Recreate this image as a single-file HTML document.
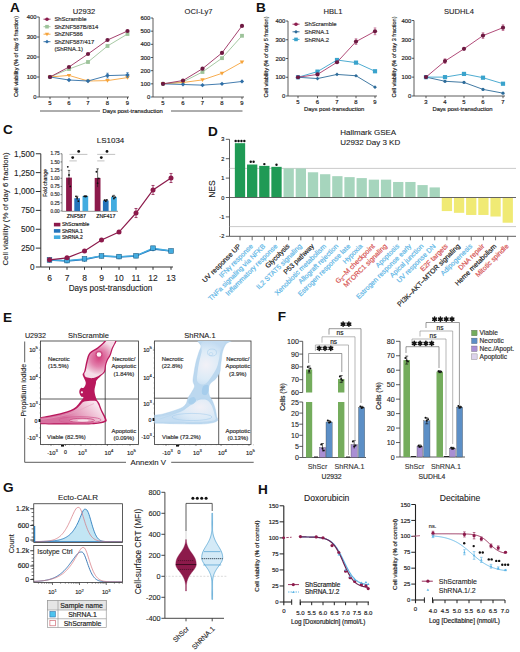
<!DOCTYPE html>
<html><head><meta charset="utf-8"><style>
html,body{margin:0;padding:0;background:#fff;}
svg{display:block;font-family:"Liberation Sans", sans-serif;}
</style></head><body>
<svg width="520" height="652" viewBox="0 0 520 652">
<rect x="0" y="0" width="520" height="652" fill="#fff"/>
<g font-family='"Liberation Sans", sans-serif'>
<text x="10.10" y="11.50" font-size="13.6" text-anchor="start" fill="#111" font-weight="bold">A</text>
<text x="255.90" y="11.50" font-size="13.6" text-anchor="start" fill="#111" font-weight="bold">B</text>
<text x="84.00" y="14.24" font-size="7.6" text-anchor="middle" fill="#222" font-weight="normal" stroke="#222" stroke-width="0.1">U2932</text>
<line x1="39.20" y1="17.00" x2="39.20" y2="97.00" stroke="#333" stroke-width="0.8"/>
<line x1="36.90" y1="97.00" x2="39.20" y2="97.00" stroke="#333" stroke-width="0.8"/>
<text x="36.60" y="99.12" font-size="5.9" text-anchor="end" fill="#222" font-weight="normal" stroke="#222" stroke-width="0.18">0</text>
<line x1="36.90" y1="77.00" x2="39.20" y2="77.00" stroke="#333" stroke-width="0.8"/>
<text x="36.60" y="79.12" font-size="5.9" text-anchor="end" fill="#222" font-weight="normal" stroke="#222" stroke-width="0.18">100</text>
<line x1="36.90" y1="57.00" x2="39.20" y2="57.00" stroke="#333" stroke-width="0.8"/>
<text x="36.60" y="59.12" font-size="5.9" text-anchor="end" fill="#222" font-weight="normal" stroke="#222" stroke-width="0.18">200</text>
<line x1="36.90" y1="37.00" x2="39.20" y2="37.00" stroke="#333" stroke-width="0.8"/>
<text x="36.60" y="39.12" font-size="5.9" text-anchor="end" fill="#222" font-weight="normal" stroke="#222" stroke-width="0.18">300</text>
<line x1="36.90" y1="17.00" x2="39.20" y2="17.00" stroke="#333" stroke-width="0.8"/>
<text x="36.60" y="19.12" font-size="5.9" text-anchor="end" fill="#222" font-weight="normal" stroke="#222" stroke-width="0.18">400</text>
<line x1="39.20" y1="97.00" x2="129.00" y2="97.00" stroke="#333" stroke-width="0.8"/>
<line x1="50.00" y1="97.00" x2="50.00" y2="99.20" stroke="#333" stroke-width="0.8"/>
<text x="50.00" y="104.62" font-size="5.9" text-anchor="middle" fill="#222" font-weight="normal" stroke="#222" stroke-width="0.18">5</text>
<line x1="69.00" y1="97.00" x2="69.00" y2="99.20" stroke="#333" stroke-width="0.8"/>
<text x="69.00" y="104.62" font-size="5.9" text-anchor="middle" fill="#222" font-weight="normal" stroke="#222" stroke-width="0.18">6</text>
<line x1="88.00" y1="97.00" x2="88.00" y2="99.20" stroke="#333" stroke-width="0.8"/>
<text x="88.00" y="104.62" font-size="5.9" text-anchor="middle" fill="#222" font-weight="normal" stroke="#222" stroke-width="0.18">7</text>
<line x1="107.50" y1="97.00" x2="107.50" y2="99.20" stroke="#333" stroke-width="0.8"/>
<text x="107.50" y="104.62" font-size="5.9" text-anchor="middle" fill="#222" font-weight="normal" stroke="#222" stroke-width="0.18">8</text>
<line x1="127.50" y1="97.00" x2="127.50" y2="99.20" stroke="#333" stroke-width="0.8"/>
<text x="127.50" y="104.62" font-size="5.9" text-anchor="middle" fill="#222" font-weight="normal" stroke="#222" stroke-width="0.18">9</text>
<text x="16.00" y="58.52" font-size="5.6" text-anchor="middle" fill="#222" font-weight="normal" stroke="#222" stroke-width="0.18" transform="rotate(-90 16.00 56.50)">Cell viability (% of day 5 fraction)</text>
<polyline points="50.00,77.00 69.00,69.00 88.00,62.00 107.50,46.00 127.50,34.00" stroke="#9dc39a" stroke-width="0.9" fill="none"/>
<rect x="48.10" y="75.10" width="3.80" height="3.80" fill="#9dc39a" stroke="none" stroke-width="0"/>
<rect x="67.10" y="67.10" width="3.80" height="3.80" fill="#9dc39a" stroke="none" stroke-width="0"/>
<rect x="86.10" y="60.10" width="3.80" height="3.80" fill="#9dc39a" stroke="none" stroke-width="0"/>
<rect x="105.60" y="44.10" width="3.80" height="3.80" fill="#9dc39a" stroke="none" stroke-width="0"/>
<rect x="125.60" y="32.10" width="3.80" height="3.80" fill="#9dc39a" stroke="none" stroke-width="0"/>
<polyline points="50.00,77.00 69.00,75.40 88.00,81.00 107.50,80.60 127.50,77.60" stroke="#f6a43c" stroke-width="0.9" fill="none"/>
<path d="M47.72,75.48 L52.28,75.48 L50.00,79.09Z" fill="#f6a43c" stroke="none" stroke-width="0"/>
<path d="M66.72,73.88 L71.28,73.88 L69.00,77.49Z" fill="#f6a43c" stroke="none" stroke-width="0"/>
<path d="M85.72,79.48 L90.28,79.48 L88.00,83.09Z" fill="#f6a43c" stroke="none" stroke-width="0"/>
<path d="M105.22,79.08 L109.78,79.08 L107.50,82.69Z" fill="#f6a43c" stroke="none" stroke-width="0"/>
<path d="M125.22,76.08 L129.78,76.08 L127.50,79.69Z" fill="#f6a43c" stroke="none" stroke-width="0"/>
<polyline points="50.00,77.00 69.00,80.00 88.00,81.00 107.50,75.60 127.50,75.00" stroke="#2f6ea6" stroke-width="0.9" fill="none"/>
<path d="M50.00,74.75 L52.25,77.00 L50.00,79.25 L47.75,77.00Z" fill="#2f6ea6" stroke="none" stroke-width="0"/>
<path d="M69.00,77.75 L71.25,80.00 L69.00,82.25 L66.75,80.00Z" fill="#2f6ea6" stroke="none" stroke-width="0"/>
<path d="M88.00,78.75 L90.25,81.00 L88.00,83.25 L85.75,81.00Z" fill="#2f6ea6" stroke="none" stroke-width="0"/>
<line x1="107.50" y1="73.20" x2="107.50" y2="78.00" stroke="#2f6ea6" stroke-width="0.6"/>
<line x1="106.20" y1="73.20" x2="108.80" y2="73.20" stroke="#2f6ea6" stroke-width="0.6"/>
<line x1="106.20" y1="78.00" x2="108.80" y2="78.00" stroke="#2f6ea6" stroke-width="0.6"/>
<path d="M107.50,73.35 L109.75,75.60 L107.50,77.85 L105.25,75.60Z" fill="#2f6ea6" stroke="none" stroke-width="0"/>
<line x1="127.50" y1="72.60" x2="127.50" y2="77.40" stroke="#2f6ea6" stroke-width="0.6"/>
<line x1="126.20" y1="72.60" x2="128.80" y2="72.60" stroke="#2f6ea6" stroke-width="0.6"/>
<line x1="126.20" y1="77.40" x2="128.80" y2="77.40" stroke="#2f6ea6" stroke-width="0.6"/>
<path d="M127.50,72.75 L129.75,75.00 L127.50,77.25 L125.25,75.00Z" fill="#2f6ea6" stroke="none" stroke-width="0"/>
<polyline points="50.00,77.00 69.00,67.00 88.00,54.00 107.50,40.00 127.50,31.00" stroke="#9a2d5e" stroke-width="0.9" fill="none"/>
<circle cx="50.00" cy="77.00" r="2.1" fill="#6e1a42" stroke="none" stroke-width="0"/>
<circle cx="69.00" cy="67.00" r="2.1" fill="#6e1a42" stroke="none" stroke-width="0"/>
<circle cx="88.00" cy="54.00" r="2.1" fill="#6e1a42" stroke="none" stroke-width="0"/>
<circle cx="107.50" cy="40.00" r="2.1" fill="#6e1a42" stroke="none" stroke-width="0"/>
<circle cx="127.50" cy="31.00" r="2.1" fill="#6e1a42" stroke="none" stroke-width="0"/>
<line x1="43.50" y1="19.20" x2="50.50" y2="19.20" stroke="#8a1b4b" stroke-width="0.9"/>
<circle cx="47.00" cy="19.20" r="1.8" fill="#8a1b4b" stroke="none" stroke-width="0"/>
<text x="54.40" y="21.32" font-size="5.9" text-anchor="start" fill="#333" font-weight="normal" stroke="#333" stroke-width="0.18">ShScramble</text>
<line x1="43.50" y1="26.70" x2="50.50" y2="26.70" stroke="#9dc39a" stroke-width="0.9"/>
<rect x="45.20" y="24.90" width="3.60" height="3.60" fill="#9dc39a" stroke="none" stroke-width="0"/>
<text x="54.40" y="28.82" font-size="5.9" text-anchor="start" fill="#333" font-weight="normal" stroke="#333" stroke-width="0.18">ShZNF587B/814</text>
<line x1="43.50" y1="34.20" x2="50.50" y2="34.20" stroke="#f6a43c" stroke-width="0.9"/>
<path d="M44.84,32.76 L49.16,32.76 L47.00,36.18Z" fill="#f6a43c" stroke="none" stroke-width="0"/>
<text x="54.40" y="36.32" font-size="5.9" text-anchor="start" fill="#333" font-weight="normal" stroke="#333" stroke-width="0.18">ShZNF586</text>
<line x1="43.50" y1="41.70" x2="50.50" y2="41.70" stroke="#2f6ea6" stroke-width="0.9"/>
<path d="M47.00,39.83 L48.88,41.70 L47.00,43.58 L45.12,41.70Z" fill="#2f6ea6" stroke="none" stroke-width="0"/>
<text x="54.40" y="43.82" font-size="5.9" text-anchor="start" fill="#333" font-weight="normal" stroke="#333" stroke-width="0.18">ShZNF587/417</text>
<text x="54.40" y="50.72" font-size="5.9" text-anchor="start" fill="#333" font-weight="normal" stroke="#333" stroke-width="0.18">(ShRNA.1)</text>
<text x="198.50" y="14.24" font-size="7.6" text-anchor="middle" fill="#222" font-weight="normal" stroke="#222" stroke-width="0.1">OCI-Ly7</text>
<line x1="153.00" y1="18.00" x2="153.00" y2="97.00" stroke="#333" stroke-width="0.8"/>
<line x1="150.70" y1="97.00" x2="153.00" y2="97.00" stroke="#333" stroke-width="0.8"/>
<text x="150.40" y="99.12" font-size="5.9" text-anchor="end" fill="#222" font-weight="normal" stroke="#222" stroke-width="0.18">0</text>
<line x1="150.70" y1="83.83" x2="153.00" y2="83.83" stroke="#333" stroke-width="0.8"/>
<text x="150.40" y="85.96" font-size="5.9" text-anchor="end" fill="#222" font-weight="normal" stroke="#222" stroke-width="0.18">100</text>
<line x1="150.70" y1="70.67" x2="153.00" y2="70.67" stroke="#333" stroke-width="0.8"/>
<text x="150.40" y="72.79" font-size="5.9" text-anchor="end" fill="#222" font-weight="normal" stroke="#222" stroke-width="0.18">200</text>
<line x1="150.70" y1="57.50" x2="153.00" y2="57.50" stroke="#333" stroke-width="0.8"/>
<text x="150.40" y="59.62" font-size="5.9" text-anchor="end" fill="#222" font-weight="normal" stroke="#222" stroke-width="0.18">300</text>
<line x1="150.70" y1="44.33" x2="153.00" y2="44.33" stroke="#333" stroke-width="0.8"/>
<text x="150.40" y="46.46" font-size="5.9" text-anchor="end" fill="#222" font-weight="normal" stroke="#222" stroke-width="0.18">400</text>
<line x1="150.70" y1="31.17" x2="153.00" y2="31.17" stroke="#333" stroke-width="0.8"/>
<text x="150.40" y="33.29" font-size="5.9" text-anchor="end" fill="#222" font-weight="normal" stroke="#222" stroke-width="0.18">500</text>
<line x1="150.70" y1="18.00" x2="153.00" y2="18.00" stroke="#333" stroke-width="0.8"/>
<text x="150.40" y="20.12" font-size="5.9" text-anchor="end" fill="#222" font-weight="normal" stroke="#222" stroke-width="0.18">600</text>
<line x1="153.00" y1="97.00" x2="244.00" y2="97.00" stroke="#333" stroke-width="0.8"/>
<line x1="163.00" y1="97.00" x2="163.00" y2="99.20" stroke="#333" stroke-width="0.8"/>
<text x="163.00" y="104.62" font-size="5.9" text-anchor="middle" fill="#222" font-weight="normal" stroke="#222" stroke-width="0.18">5</text>
<line x1="183.00" y1="97.00" x2="183.00" y2="99.20" stroke="#333" stroke-width="0.8"/>
<text x="183.00" y="104.62" font-size="5.9" text-anchor="middle" fill="#222" font-weight="normal" stroke="#222" stroke-width="0.18">6</text>
<line x1="202.50" y1="97.00" x2="202.50" y2="99.20" stroke="#333" stroke-width="0.8"/>
<text x="202.50" y="104.62" font-size="5.9" text-anchor="middle" fill="#222" font-weight="normal" stroke="#222" stroke-width="0.18">7</text>
<line x1="222.00" y1="97.00" x2="222.00" y2="99.20" stroke="#333" stroke-width="0.8"/>
<text x="222.00" y="104.62" font-size="5.9" text-anchor="middle" fill="#222" font-weight="normal" stroke="#222" stroke-width="0.18">8</text>
<line x1="242.00" y1="97.00" x2="242.00" y2="99.20" stroke="#333" stroke-width="0.8"/>
<text x="242.00" y="104.62" font-size="5.9" text-anchor="middle" fill="#222" font-weight="normal" stroke="#222" stroke-width="0.18">9</text>
<polyline points="163.00,83.83 183.00,81.86 202.50,71.98 222.00,58.16 242.00,35.78" stroke="#9dc39a" stroke-width="0.9" fill="none"/>
<rect x="161.10" y="81.93" width="3.80" height="3.80" fill="#9dc39a" stroke="none" stroke-width="0"/>
<rect x="181.10" y="79.96" width="3.80" height="3.80" fill="#9dc39a" stroke="none" stroke-width="0"/>
<rect x="200.60" y="70.08" width="3.80" height="3.80" fill="#9dc39a" stroke="none" stroke-width="0"/>
<rect x="220.10" y="56.26" width="3.80" height="3.80" fill="#9dc39a" stroke="none" stroke-width="0"/>
<rect x="240.10" y="33.88" width="3.80" height="3.80" fill="#9dc39a" stroke="none" stroke-width="0"/>
<polyline points="163.00,83.83 183.00,82.52 202.50,79.88 222.00,73.30 242.00,62.11" stroke="#f6a43c" stroke-width="0.9" fill="none"/>
<path d="M160.72,82.31 L165.28,82.31 L163.00,85.92Z" fill="#f6a43c" stroke="none" stroke-width="0"/>
<path d="M180.72,81.00 L185.28,81.00 L183.00,84.61Z" fill="#f6a43c" stroke="none" stroke-width="0"/>
<path d="M200.22,78.36 L204.78,78.36 L202.50,81.97Z" fill="#f6a43c" stroke="none" stroke-width="0"/>
<path d="M219.72,71.78 L224.28,71.78 L222.00,75.39Z" fill="#f6a43c" stroke="none" stroke-width="0"/>
<path d="M239.72,60.59 L244.28,60.59 L242.00,64.20Z" fill="#f6a43c" stroke="none" stroke-width="0"/>
<polyline points="163.00,83.83 183.00,84.49 202.50,85.15 222.00,83.83 242.00,81.46" stroke="#2f6ea6" stroke-width="0.9" fill="none"/>
<path d="M163.00,81.71 L165.12,83.83 L163.00,85.96 L160.88,83.83Z" fill="#2f6ea6" stroke="none" stroke-width="0"/>
<path d="M183.00,82.37 L185.12,84.49 L183.00,86.62 L180.88,84.49Z" fill="#2f6ea6" stroke="none" stroke-width="0"/>
<path d="M202.50,83.03 L204.62,85.15 L202.50,87.28 L200.38,85.15Z" fill="#2f6ea6" stroke="none" stroke-width="0"/>
<path d="M222.00,81.71 L224.12,83.83 L222.00,85.96 L219.88,83.83Z" fill="#2f6ea6" stroke="none" stroke-width="0"/>
<path d="M242.00,79.34 L244.12,81.46 L242.00,83.59 L239.88,81.46Z" fill="#2f6ea6" stroke="none" stroke-width="0"/>
<polyline points="163.00,83.83 183.00,80.54 202.50,68.69 222.00,52.89 242.00,25.90" stroke="#9a2d5e" stroke-width="0.9" fill="none"/>
<circle cx="163.00" cy="83.83" r="2.1" fill="#6e1a42" stroke="none" stroke-width="0"/>
<circle cx="183.00" cy="80.54" r="2.1" fill="#6e1a42" stroke="none" stroke-width="0"/>
<circle cx="202.50" cy="68.69" r="2.1" fill="#6e1a42" stroke="none" stroke-width="0"/>
<circle cx="222.00" cy="52.89" r="2.1" fill="#6e1a42" stroke="none" stroke-width="0"/>
<circle cx="242.00" cy="25.90" r="2.1" fill="#6e1a42" stroke="none" stroke-width="0"/>
<line x1="40.00" y1="111.00" x2="100.00" y2="111.00" stroke="#333" stroke-width="0.8"/>
<line x1="171.00" y1="111.00" x2="242.50" y2="111.00" stroke="#333" stroke-width="0.8"/>
<text x="132.60" y="113.32" font-size="5.9" text-anchor="middle" fill="#222" font-weight="normal" stroke="#222" stroke-width="0.18">Days post-transduction</text>
<text x="333.00" y="14.24" font-size="7.6" text-anchor="middle" fill="#222" font-weight="normal" stroke="#222" stroke-width="0.1">HBL1</text>
<line x1="288.00" y1="21.00" x2="288.00" y2="96.00" stroke="#333" stroke-width="0.8"/>
<line x1="285.70" y1="96.00" x2="288.00" y2="96.00" stroke="#333" stroke-width="0.8"/>
<text x="285.40" y="98.12" font-size="5.9" text-anchor="end" fill="#222" font-weight="normal" stroke="#222" stroke-width="0.18">0</text>
<line x1="285.70" y1="77.25" x2="288.00" y2="77.25" stroke="#333" stroke-width="0.8"/>
<text x="285.40" y="79.37" font-size="5.9" text-anchor="end" fill="#222" font-weight="normal" stroke="#222" stroke-width="0.18">100</text>
<line x1="285.70" y1="58.50" x2="288.00" y2="58.50" stroke="#333" stroke-width="0.8"/>
<text x="285.40" y="60.62" font-size="5.9" text-anchor="end" fill="#222" font-weight="normal" stroke="#222" stroke-width="0.18">200</text>
<line x1="285.70" y1="39.75" x2="288.00" y2="39.75" stroke="#333" stroke-width="0.8"/>
<text x="285.40" y="41.87" font-size="5.9" text-anchor="end" fill="#222" font-weight="normal" stroke="#222" stroke-width="0.18">300</text>
<line x1="285.70" y1="21.00" x2="288.00" y2="21.00" stroke="#333" stroke-width="0.8"/>
<text x="285.40" y="23.12" font-size="5.9" text-anchor="end" fill="#222" font-weight="normal" stroke="#222" stroke-width="0.18">400</text>
<line x1="288.00" y1="96.00" x2="377.00" y2="96.00" stroke="#333" stroke-width="0.8"/>
<line x1="298.00" y1="96.00" x2="298.00" y2="98.20" stroke="#333" stroke-width="0.8"/>
<text x="298.00" y="103.62" font-size="5.9" text-anchor="middle" fill="#222" font-weight="normal" stroke="#222" stroke-width="0.18">5</text>
<line x1="317.50" y1="96.00" x2="317.50" y2="98.20" stroke="#333" stroke-width="0.8"/>
<text x="317.50" y="103.62" font-size="5.9" text-anchor="middle" fill="#222" font-weight="normal" stroke="#222" stroke-width="0.18">6</text>
<line x1="337.00" y1="96.00" x2="337.00" y2="98.20" stroke="#333" stroke-width="0.8"/>
<text x="337.00" y="103.62" font-size="5.9" text-anchor="middle" fill="#222" font-weight="normal" stroke="#222" stroke-width="0.18">7</text>
<line x1="356.00" y1="96.00" x2="356.00" y2="98.20" stroke="#333" stroke-width="0.8"/>
<text x="356.00" y="103.62" font-size="5.9" text-anchor="middle" fill="#222" font-weight="normal" stroke="#222" stroke-width="0.18">8</text>
<line x1="375.00" y1="96.00" x2="375.00" y2="98.20" stroke="#333" stroke-width="0.8"/>
<text x="375.00" y="103.62" font-size="5.9" text-anchor="middle" fill="#222" font-weight="normal" stroke="#222" stroke-width="0.18">9</text>
<text x="334.20" y="111.32" font-size="5.9" text-anchor="middle" fill="#222" font-weight="normal" stroke="#222" stroke-width="0.18">Days post-transduction</text>
<text x="265.50" y="59.02" font-size="5.6" text-anchor="middle" fill="#222" font-weight="normal" stroke="#222" stroke-width="0.18" transform="rotate(-90 265.50 57.00)">Cell viability (% of day 5 fraction)</text>
<polyline points="298.00,77.25 317.50,78.56 337.00,74.44 356.00,75.75 375.00,87.19" stroke="#2c6b99" stroke-width="0.9" fill="none"/>
<path d="M298.00,75.38 L299.88,77.25 L298.00,79.12 L296.12,77.25Z" fill="#2c6b99" stroke="none" stroke-width="0"/>
<path d="M317.50,76.69 L319.38,78.56 L317.50,80.44 L315.62,78.56Z" fill="#2c6b99" stroke="none" stroke-width="0"/>
<path d="M337.00,72.56 L338.88,74.44 L337.00,76.31 L335.12,74.44Z" fill="#2c6b99" stroke="none" stroke-width="0"/>
<path d="M356.00,73.88 L357.88,75.75 L356.00,77.62 L354.12,75.75Z" fill="#2c6b99" stroke="none" stroke-width="0"/>
<path d="M375.00,85.31 L376.88,87.19 L375.00,89.06 L373.12,87.19Z" fill="#2c6b99" stroke="none" stroke-width="0"/>
<polyline points="298.00,77.25 317.50,71.62 337.00,60.00 356.00,62.62 375.00,71.25" stroke="#3aa3cc" stroke-width="0.9" fill="none"/>
<rect x="295.90" y="75.15" width="4.20" height="4.20" fill="#3aa3cc" stroke="none" stroke-width="0"/>
<rect x="315.40" y="69.53" width="4.20" height="4.20" fill="#3aa3cc" stroke="none" stroke-width="0"/>
<rect x="334.90" y="57.90" width="4.20" height="4.20" fill="#3aa3cc" stroke="none" stroke-width="0"/>
<rect x="353.90" y="60.52" width="4.20" height="4.20" fill="#3aa3cc" stroke="none" stroke-width="0"/>
<rect x="372.90" y="69.15" width="4.20" height="4.20" fill="#3aa3cc" stroke="none" stroke-width="0"/>
<polyline points="298.00,77.25 317.50,74.44 337.00,62.25 356.00,41.62 375.00,31.31" stroke="#a8386a" stroke-width="0.9" fill="none"/>
<circle cx="298.00" cy="77.25" r="2.1" fill="#6e1a42" stroke="none" stroke-width="0"/>
<circle cx="317.50" cy="74.44" r="2.1" fill="#6e1a42" stroke="none" stroke-width="0"/>
<circle cx="337.00" cy="62.25" r="2.1" fill="#6e1a42" stroke="none" stroke-width="0"/>
<line x1="356.00" y1="38.81" x2="356.00" y2="44.44" stroke="#a8386a" stroke-width="0.6"/>
<line x1="354.70" y1="38.81" x2="357.30" y2="38.81" stroke="#a8386a" stroke-width="0.6"/>
<line x1="354.70" y1="44.44" x2="357.30" y2="44.44" stroke="#a8386a" stroke-width="0.6"/>
<circle cx="356.00" cy="41.62" r="2.1" fill="#6e1a42" stroke="none" stroke-width="0"/>
<line x1="375.00" y1="27.94" x2="375.00" y2="34.69" stroke="#a8386a" stroke-width="0.6"/>
<line x1="373.70" y1="27.94" x2="376.30" y2="27.94" stroke="#a8386a" stroke-width="0.6"/>
<line x1="373.70" y1="34.69" x2="376.30" y2="34.69" stroke="#a8386a" stroke-width="0.6"/>
<circle cx="375.00" cy="31.31" r="2.1" fill="#6e1a42" stroke="none" stroke-width="0"/>
<line x1="292.50" y1="24.20" x2="299.50" y2="24.20" stroke="#8e1e4e" stroke-width="0.9"/>
<circle cx="296.00" cy="24.20" r="1.8" fill="#8e1e4e" stroke="none" stroke-width="0"/>
<text x="304.50" y="26.32" font-size="5.9" text-anchor="start" fill="#333" font-weight="normal" stroke="#333" stroke-width="0.18">ShScramble</text>
<line x1="292.50" y1="31.80" x2="299.50" y2="31.80" stroke="#2c6b99" stroke-width="0.9"/>
<path d="M296.00,29.92 L297.88,31.80 L296.00,33.67 L294.12,31.80Z" fill="#2c6b99" stroke="none" stroke-width="0"/>
<text x="304.50" y="33.92" font-size="5.9" text-anchor="start" fill="#333" font-weight="normal" stroke="#333" stroke-width="0.18">ShRNA.1</text>
<line x1="292.50" y1="39.40" x2="299.50" y2="39.40" stroke="#3aa3cc" stroke-width="0.9"/>
<rect x="294.20" y="37.60" width="3.60" height="3.60" fill="#3aa3cc" stroke="none" stroke-width="0"/>
<text x="304.50" y="41.52" font-size="5.9" text-anchor="start" fill="#333" font-weight="normal" stroke="#333" stroke-width="0.18">ShRNA.2</text>
<text x="459.00" y="14.24" font-size="7.6" text-anchor="middle" fill="#222" font-weight="normal" stroke="#222" stroke-width="0.1">SUDHL4</text>
<line x1="414.00" y1="20.50" x2="414.00" y2="96.00" stroke="#333" stroke-width="0.8"/>
<line x1="411.70" y1="96.00" x2="414.00" y2="96.00" stroke="#333" stroke-width="0.8"/>
<text x="411.40" y="98.12" font-size="5.9" text-anchor="end" fill="#222" font-weight="normal" stroke="#222" stroke-width="0.18">0</text>
<line x1="411.70" y1="77.12" x2="414.00" y2="77.12" stroke="#333" stroke-width="0.8"/>
<text x="411.40" y="79.25" font-size="5.9" text-anchor="end" fill="#222" font-weight="normal" stroke="#222" stroke-width="0.18">100</text>
<line x1="411.70" y1="58.25" x2="414.00" y2="58.25" stroke="#333" stroke-width="0.8"/>
<text x="411.40" y="60.37" font-size="5.9" text-anchor="end" fill="#222" font-weight="normal" stroke="#222" stroke-width="0.18">200</text>
<line x1="411.70" y1="39.38" x2="414.00" y2="39.38" stroke="#333" stroke-width="0.8"/>
<text x="411.40" y="41.50" font-size="5.9" text-anchor="end" fill="#222" font-weight="normal" stroke="#222" stroke-width="0.18">300</text>
<line x1="411.70" y1="20.50" x2="414.00" y2="20.50" stroke="#333" stroke-width="0.8"/>
<text x="411.40" y="22.62" font-size="5.9" text-anchor="end" fill="#222" font-weight="normal" stroke="#222" stroke-width="0.18">400</text>
<line x1="414.00" y1="96.00" x2="505.00" y2="96.00" stroke="#333" stroke-width="0.8"/>
<line x1="426.00" y1="96.00" x2="426.00" y2="98.20" stroke="#333" stroke-width="0.8"/>
<text x="426.00" y="103.62" font-size="5.9" text-anchor="middle" fill="#222" font-weight="normal" stroke="#222" stroke-width="0.18">3</text>
<line x1="445.00" y1="96.00" x2="445.00" y2="98.20" stroke="#333" stroke-width="0.8"/>
<text x="445.00" y="103.62" font-size="5.9" text-anchor="middle" fill="#222" font-weight="normal" stroke="#222" stroke-width="0.18">4</text>
<line x1="464.00" y1="96.00" x2="464.00" y2="98.20" stroke="#333" stroke-width="0.8"/>
<text x="464.00" y="103.62" font-size="5.9" text-anchor="middle" fill="#222" font-weight="normal" stroke="#222" stroke-width="0.18">5</text>
<line x1="483.00" y1="96.00" x2="483.00" y2="98.20" stroke="#333" stroke-width="0.8"/>
<text x="483.00" y="103.62" font-size="5.9" text-anchor="middle" fill="#222" font-weight="normal" stroke="#222" stroke-width="0.18">6</text>
<line x1="503.00" y1="96.00" x2="503.00" y2="98.20" stroke="#333" stroke-width="0.8"/>
<text x="503.00" y="103.62" font-size="5.9" text-anchor="middle" fill="#222" font-weight="normal" stroke="#222" stroke-width="0.18">7</text>
<text x="462.50" y="111.32" font-size="5.9" text-anchor="middle" fill="#222" font-weight="normal" stroke="#222" stroke-width="0.18">Days post-transduction</text>
<text x="393.50" y="59.02" font-size="5.6" text-anchor="middle" fill="#222" font-weight="normal" stroke="#222" stroke-width="0.18" transform="rotate(-90 393.50 57.00)">Cell viability (% of day 3 fraction)</text>
<polyline points="426.00,77.12 445.00,81.28 464.00,82.41 483.00,89.39 503.00,93.17" stroke="#2c6b99" stroke-width="0.9" fill="none"/>
<circle cx="426.00" cy="77.12" r="1.6" fill="#2c6b99" stroke="none" stroke-width="0"/>
<circle cx="445.00" cy="81.28" r="1.6" fill="#2c6b99" stroke="none" stroke-width="0"/>
<circle cx="464.00" cy="82.41" r="1.6" fill="#2c6b99" stroke="none" stroke-width="0"/>
<circle cx="483.00" cy="89.39" r="1.6" fill="#2c6b99" stroke="none" stroke-width="0"/>
<circle cx="503.00" cy="93.17" r="1.6" fill="#2c6b99" stroke="none" stroke-width="0"/>
<polyline points="426.00,77.12 445.00,77.12 464.00,73.92 483.00,77.69 503.00,83.73" stroke="#3aa3cc" stroke-width="0.9" fill="none"/>
<rect x="423.90" y="75.03" width="4.20" height="4.20" fill="#3aa3cc" stroke="none" stroke-width="0"/>
<rect x="442.90" y="75.03" width="4.20" height="4.20" fill="#3aa3cc" stroke="none" stroke-width="0"/>
<rect x="461.90" y="71.82" width="4.20" height="4.20" fill="#3aa3cc" stroke="none" stroke-width="0"/>
<rect x="480.90" y="75.59" width="4.20" height="4.20" fill="#3aa3cc" stroke="none" stroke-width="0"/>
<rect x="500.90" y="81.63" width="4.20" height="4.20" fill="#3aa3cc" stroke="none" stroke-width="0"/>
<polyline points="426.00,77.12 445.00,61.08 464.00,48.81 483.00,35.60 503.00,27.67" stroke="#a8386a" stroke-width="0.9" fill="none"/>
<circle cx="426.00" cy="77.12" r="2.1" fill="#6e1a42" stroke="none" stroke-width="0"/>
<line x1="445.00" y1="58.82" x2="445.00" y2="63.35" stroke="#a8386a" stroke-width="0.6"/>
<line x1="443.70" y1="58.82" x2="446.30" y2="58.82" stroke="#a8386a" stroke-width="0.6"/>
<line x1="443.70" y1="63.35" x2="446.30" y2="63.35" stroke="#a8386a" stroke-width="0.6"/>
<circle cx="445.00" cy="61.08" r="2.1" fill="#6e1a42" stroke="none" stroke-width="0"/>
<circle cx="464.00" cy="48.81" r="2.1" fill="#6e1a42" stroke="none" stroke-width="0"/>
<line x1="483.00" y1="32.77" x2="483.00" y2="38.43" stroke="#a8386a" stroke-width="0.6"/>
<line x1="481.70" y1="32.77" x2="484.30" y2="32.77" stroke="#a8386a" stroke-width="0.6"/>
<line x1="481.70" y1="38.43" x2="484.30" y2="38.43" stroke="#a8386a" stroke-width="0.6"/>
<circle cx="483.00" cy="35.60" r="2.1" fill="#6e1a42" stroke="none" stroke-width="0"/>
<line x1="503.00" y1="24.84" x2="503.00" y2="30.50" stroke="#a8386a" stroke-width="0.6"/>
<line x1="501.70" y1="24.84" x2="504.30" y2="24.84" stroke="#a8386a" stroke-width="0.6"/>
<line x1="501.70" y1="30.50" x2="504.30" y2="30.50" stroke="#a8386a" stroke-width="0.6"/>
<circle cx="503.00" cy="27.67" r="2.1" fill="#6e1a42" stroke="none" stroke-width="0"/>
</g>
<g font-family='"Liberation Sans", sans-serif'>
<text x="2.90" y="133.90" font-size="13.6" text-anchor="start" fill="#111" font-weight="bold">C</text>
<text x="110.50" y="142.88" font-size="8" text-anchor="middle" fill="#222" font-weight="normal" stroke="#222" stroke-width="0.1">LS1034</text>
<line x1="40.80" y1="153.75" x2="40.80" y2="267.00" stroke="#333" stroke-width="1.0"/>
<line x1="35.80" y1="267.00" x2="40.80" y2="267.00" stroke="#333" stroke-width="1.0"/>
<text x="34.60" y="269.95" font-size="8.2" text-anchor="end" fill="#222" font-weight="normal" stroke="#222" stroke-width="0.1">0</text>
<line x1="35.80" y1="248.12" x2="40.80" y2="248.12" stroke="#333" stroke-width="1.0"/>
<text x="34.60" y="251.08" font-size="8.2" text-anchor="end" fill="#222" font-weight="normal" stroke="#222" stroke-width="0.1">250</text>
<line x1="35.80" y1="229.25" x2="40.80" y2="229.25" stroke="#333" stroke-width="1.0"/>
<text x="34.60" y="232.20" font-size="8.2" text-anchor="end" fill="#222" font-weight="normal" stroke="#222" stroke-width="0.1">500</text>
<line x1="35.80" y1="210.38" x2="40.80" y2="210.38" stroke="#333" stroke-width="1.0"/>
<text x="34.60" y="213.33" font-size="8.2" text-anchor="end" fill="#222" font-weight="normal" stroke="#222" stroke-width="0.1">750</text>
<line x1="35.80" y1="191.50" x2="40.80" y2="191.50" stroke="#333" stroke-width="1.0"/>
<text x="34.60" y="194.45" font-size="8.2" text-anchor="end" fill="#222" font-weight="normal" stroke="#222" stroke-width="0.1">1,000</text>
<line x1="35.80" y1="172.62" x2="40.80" y2="172.62" stroke="#333" stroke-width="1.0"/>
<text x="34.60" y="175.58" font-size="8.2" text-anchor="end" fill="#222" font-weight="normal" stroke="#222" stroke-width="0.1">1,250</text>
<line x1="35.80" y1="153.75" x2="40.80" y2="153.75" stroke="#333" stroke-width="1.0"/>
<text x="34.60" y="156.70" font-size="8.2" text-anchor="end" fill="#222" font-weight="normal" stroke="#222" stroke-width="0.1">1,500</text>
<line x1="40.80" y1="267.00" x2="173.00" y2="267.00" stroke="#333" stroke-width="1.0"/>
<line x1="49.50" y1="267.00" x2="49.50" y2="269.80" stroke="#333" stroke-width="1.0"/>
<text x="49.50" y="281.26" font-size="8.5" text-anchor="middle" fill="#222" font-weight="normal" stroke="#222" stroke-width="0.1">6</text>
<line x1="67.00" y1="267.00" x2="67.00" y2="269.80" stroke="#333" stroke-width="1.0"/>
<text x="67.00" y="281.26" font-size="8.5" text-anchor="middle" fill="#222" font-weight="normal" stroke="#222" stroke-width="0.1">7</text>
<line x1="84.50" y1="267.00" x2="84.50" y2="269.80" stroke="#333" stroke-width="1.0"/>
<text x="84.50" y="281.26" font-size="8.5" text-anchor="middle" fill="#222" font-weight="normal" stroke="#222" stroke-width="0.1">8</text>
<line x1="101.50" y1="267.00" x2="101.50" y2="269.80" stroke="#333" stroke-width="1.0"/>
<text x="101.50" y="281.26" font-size="8.5" text-anchor="middle" fill="#222" font-weight="normal" stroke="#222" stroke-width="0.1">9</text>
<line x1="119.00" y1="267.00" x2="119.00" y2="269.80" stroke="#333" stroke-width="1.0"/>
<text x="119.00" y="281.26" font-size="8.5" text-anchor="middle" fill="#222" font-weight="normal" stroke="#222" stroke-width="0.1">10</text>
<line x1="136.00" y1="267.00" x2="136.00" y2="269.80" stroke="#333" stroke-width="1.0"/>
<text x="136.00" y="281.26" font-size="8.5" text-anchor="middle" fill="#222" font-weight="normal" stroke="#222" stroke-width="0.1">11</text>
<line x1="153.00" y1="267.00" x2="153.00" y2="269.80" stroke="#333" stroke-width="1.0"/>
<text x="153.00" y="281.26" font-size="8.5" text-anchor="middle" fill="#222" font-weight="normal" stroke="#222" stroke-width="0.1">12</text>
<line x1="171.00" y1="267.00" x2="171.00" y2="269.80" stroke="#333" stroke-width="1.0"/>
<text x="171.00" y="281.26" font-size="8.5" text-anchor="middle" fill="#222" font-weight="normal" stroke="#222" stroke-width="0.1">13</text>
<text x="110.50" y="291.45" font-size="8.2" text-anchor="middle" fill="#222" font-weight="normal" stroke="#222" stroke-width="0.1">Days post-transduction</text>
<text x="5.50" y="211.81" font-size="7.8" text-anchor="middle" fill="#222" font-weight="normal" stroke="#222" stroke-width="0.1" transform="rotate(-90 5.50 209.00)">Cell viability (% of day 6 fraction)</text>
<polyline points="49.50,259.98 67.00,260.96 84.50,259.45 101.50,255.98 119.00,257.03 136.00,255.98 153.00,249.03 171.00,250.99" stroke="#2574bb" stroke-width="1.4" fill="none"/>
<path d="M49.50,257.48 L52.00,259.98 L49.50,262.48 L47.00,259.98Z" fill="#2574bb" stroke="none" stroke-width="0"/>
<path d="M67.00,258.46 L69.50,260.96 L67.00,263.46 L64.50,260.96Z" fill="#2574bb" stroke="none" stroke-width="0"/>
<path d="M84.50,256.95 L87.00,259.45 L84.50,261.95 L82.00,259.45Z" fill="#2574bb" stroke="none" stroke-width="0"/>
<path d="M101.50,253.48 L104.00,255.98 L101.50,258.48 L99.00,255.98Z" fill="#2574bb" stroke="none" stroke-width="0"/>
<path d="M119.00,254.53 L121.50,257.03 L119.00,259.53 L116.50,257.03Z" fill="#2574bb" stroke="none" stroke-width="0"/>
<path d="M136.00,253.48 L138.50,255.98 L136.00,258.48 L133.50,255.98Z" fill="#2574bb" stroke="none" stroke-width="0"/>
<path d="M153.00,246.53 L155.50,249.03 L153.00,251.53 L150.50,249.03Z" fill="#2574bb" stroke="none" stroke-width="0"/>
<path d="M171.00,248.49 L173.50,250.99 L171.00,253.49 L168.50,250.99Z" fill="#2574bb" stroke="none" stroke-width="0"/>
<polyline points="49.50,259.98 67.00,260.58 84.50,258.85 101.50,255.98 119.00,256.58 136.00,255.83 153.00,248.12 171.00,250.99" stroke="#43ace0" stroke-width="1.3" fill="none"/>
<rect x="47.20" y="257.68" width="4.60" height="4.60" fill="#43ace0" stroke="#1d5f86" stroke-width="0.6"/>
<rect x="64.70" y="258.28" width="4.60" height="4.60" fill="#43ace0" stroke="#1d5f86" stroke-width="0.6"/>
<rect x="82.20" y="256.55" width="4.60" height="4.60" fill="#43ace0" stroke="#1d5f86" stroke-width="0.6"/>
<rect x="99.20" y="253.68" width="4.60" height="4.60" fill="#43ace0" stroke="#1d5f86" stroke-width="0.6"/>
<rect x="116.70" y="254.28" width="4.60" height="4.60" fill="#43ace0" stroke="#1d5f86" stroke-width="0.6"/>
<rect x="133.70" y="253.53" width="4.60" height="4.60" fill="#43ace0" stroke="#1d5f86" stroke-width="0.6"/>
<rect x="150.70" y="245.82" width="4.60" height="4.60" fill="#43ace0" stroke="#1d5f86" stroke-width="0.6"/>
<rect x="168.70" y="248.69" width="4.60" height="4.60" fill="#43ace0" stroke="#1d5f86" stroke-width="0.6"/>
<polyline points="49.50,259.83 67.00,257.79 84.50,250.99 101.50,240.05 119.00,232.04 136.00,213.02 153.00,189.99 171.00,177.99" stroke="#8c1a4b" stroke-width="1.2" fill="none"/>
<circle cx="49.50" cy="259.83" r="2.5" fill="#8c1a4b" stroke="none" stroke-width="0"/>
<circle cx="67.00" cy="257.79" r="2.5" fill="#8c1a4b" stroke="none" stroke-width="0"/>
<circle cx="84.50" cy="250.99" r="2.5" fill="#8c1a4b" stroke="none" stroke-width="0"/>
<circle cx="101.50" cy="240.05" r="2.5" fill="#8c1a4b" stroke="none" stroke-width="0"/>
<circle cx="119.00" cy="232.04" r="2.5" fill="#8c1a4b" stroke="none" stroke-width="0"/>
<line x1="136.00" y1="208.49" x2="136.00" y2="217.55" stroke="#8c1a4b" stroke-width="0.8"/>
<line x1="134.50" y1="208.49" x2="137.50" y2="208.49" stroke="#8c1a4b" stroke-width="0.8"/>
<line x1="134.50" y1="217.55" x2="137.50" y2="217.55" stroke="#8c1a4b" stroke-width="0.8"/>
<circle cx="136.00" cy="213.02" r="2.5" fill="#8c1a4b" stroke="none" stroke-width="0"/>
<line x1="153.00" y1="185.46" x2="153.00" y2="194.52" stroke="#8c1a4b" stroke-width="0.8"/>
<line x1="151.50" y1="185.46" x2="154.50" y2="185.46" stroke="#8c1a4b" stroke-width="0.8"/>
<line x1="151.50" y1="194.52" x2="154.50" y2="194.52" stroke="#8c1a4b" stroke-width="0.8"/>
<circle cx="153.00" cy="189.99" r="2.5" fill="#8c1a4b" stroke="none" stroke-width="0"/>
<line x1="171.00" y1="173.46" x2="171.00" y2="182.52" stroke="#8c1a4b" stroke-width="0.8"/>
<line x1="169.50" y1="173.46" x2="172.50" y2="173.46" stroke="#8c1a4b" stroke-width="0.8"/>
<line x1="169.50" y1="182.52" x2="172.50" y2="182.52" stroke="#8c1a4b" stroke-width="0.8"/>
<circle cx="171.00" cy="177.99" r="2.5" fill="#8c1a4b" stroke="none" stroke-width="0"/>
<line x1="62.00" y1="153.75" x2="62.00" y2="211.00" stroke="#333" stroke-width="0.6"/>
<line x1="60.50" y1="211.00" x2="62.00" y2="211.00" stroke="#333" stroke-width="0.6"/>
<text x="59.70" y="212.69" font-size="4.7" text-anchor="end" fill="#333" font-weight="normal" stroke="#333" stroke-width="0.18">0.00</text>
<line x1="60.50" y1="202.82" x2="62.00" y2="202.82" stroke="#333" stroke-width="0.6"/>
<text x="59.70" y="204.51" font-size="4.7" text-anchor="end" fill="#333" font-weight="normal" stroke="#333" stroke-width="0.18">0.25</text>
<line x1="60.50" y1="194.64" x2="62.00" y2="194.64" stroke="#333" stroke-width="0.6"/>
<text x="59.70" y="196.33" font-size="4.7" text-anchor="end" fill="#333" font-weight="normal" stroke="#333" stroke-width="0.18">0.50</text>
<line x1="60.50" y1="186.46" x2="62.00" y2="186.46" stroke="#333" stroke-width="0.6"/>
<text x="59.70" y="188.16" font-size="4.7" text-anchor="end" fill="#333" font-weight="normal" stroke="#333" stroke-width="0.18">0.75</text>
<line x1="60.50" y1="178.29" x2="62.00" y2="178.29" stroke="#333" stroke-width="0.6"/>
<text x="59.70" y="179.98" font-size="4.7" text-anchor="end" fill="#333" font-weight="normal" stroke="#333" stroke-width="0.18">1.00</text>
<line x1="60.50" y1="170.11" x2="62.00" y2="170.11" stroke="#333" stroke-width="0.6"/>
<text x="59.70" y="171.80" font-size="4.7" text-anchor="end" fill="#333" font-weight="normal" stroke="#333" stroke-width="0.18">1.25</text>
<line x1="60.50" y1="161.93" x2="62.00" y2="161.93" stroke="#333" stroke-width="0.6"/>
<text x="59.70" y="163.62" font-size="4.7" text-anchor="end" fill="#333" font-weight="normal" stroke="#333" stroke-width="0.18">1.50</text>
<line x1="60.50" y1="153.75" x2="62.00" y2="153.75" stroke="#333" stroke-width="0.6"/>
<text x="59.70" y="155.44" font-size="4.7" text-anchor="end" fill="#333" font-weight="normal" stroke="#333" stroke-width="0.18">1.75</text>
<text x="45.70" y="184.80" font-size="5.0" text-anchor="middle" fill="#222" font-weight="normal" stroke="#222" stroke-width="0.18" transform="rotate(-90 45.70 183.00)">Fold change</text>
<line x1="62.00" y1="211.30" x2="118.00" y2="211.30" stroke="#444" stroke-width="0.6"/>
<rect x="66.10" y="177.63" width="5.80" height="33.37" fill="#8c1a4b" stroke="none" stroke-width="0"/>
<line x1="69.00" y1="170.43" x2="69.00" y2="184.83" stroke="#111" stroke-width="0.6"/>
<line x1="67.80" y1="170.43" x2="70.20" y2="170.43" stroke="#111" stroke-width="0.6"/>
<circle cx="67.80" cy="166.84" r="0.9" fill="#111" stroke="none" stroke-width="0"/>
<circle cx="69.00" cy="175.01" r="0.9" fill="#111" stroke="none" stroke-width="0"/>
<circle cx="70.20" cy="186.46" r="0.9" fill="#111" stroke="none" stroke-width="0"/>
<rect x="74.30" y="198.24" width="5.70" height="12.76" fill="#2574bb" stroke="none" stroke-width="0"/>
<line x1="77.15" y1="196.28" x2="77.15" y2="200.20" stroke="#111" stroke-width="0.6"/>
<line x1="75.95" y1="196.28" x2="78.35" y2="196.28" stroke="#111" stroke-width="0.6"/>
<circle cx="75.95" cy="196.28" r="0.9" fill="#111" stroke="none" stroke-width="0"/>
<circle cx="77.15" cy="197.91" r="0.9" fill="#111" stroke="none" stroke-width="0"/>
<circle cx="78.35" cy="201.19" r="0.9" fill="#111" stroke="none" stroke-width="0"/>
<rect x="82.50" y="195.95" width="5.70" height="15.05" fill="#43ace0" stroke="none" stroke-width="0"/>
<line x1="85.35" y1="195.62" x2="85.35" y2="196.28" stroke="#111" stroke-width="0.6"/>
<line x1="84.15" y1="195.62" x2="86.55" y2="195.62" stroke="#111" stroke-width="0.6"/>
<circle cx="84.15" cy="196.28" r="0.9" fill="#111" stroke="none" stroke-width="0"/>
<circle cx="85.35" cy="196.61" r="0.9" fill="#111" stroke="none" stroke-width="0"/>
<circle cx="86.55" cy="196.28" r="0.9" fill="#111" stroke="none" stroke-width="0"/>
<rect x="94.70" y="177.96" width="5.80" height="33.04" fill="#8c1a4b" stroke="none" stroke-width="0"/>
<line x1="97.60" y1="168.80" x2="97.60" y2="187.12" stroke="#111" stroke-width="0.6"/>
<line x1="96.40" y1="168.80" x2="98.80" y2="168.80" stroke="#111" stroke-width="0.6"/>
<circle cx="96.40" cy="171.74" r="0.9" fill="#111" stroke="none" stroke-width="0"/>
<circle cx="97.60" cy="183.19" r="0.9" fill="#111" stroke="none" stroke-width="0"/>
<circle cx="98.80" cy="178.29" r="0.9" fill="#111" stroke="none" stroke-width="0"/>
<rect x="102.90" y="200.53" width="5.70" height="10.47" fill="#2574bb" stroke="none" stroke-width="0"/>
<line x1="105.75" y1="199.88" x2="105.75" y2="201.19" stroke="#111" stroke-width="0.6"/>
<line x1="104.55" y1="199.88" x2="106.95" y2="199.88" stroke="#111" stroke-width="0.6"/>
<circle cx="104.55" cy="200.20" r="0.9" fill="#111" stroke="none" stroke-width="0"/>
<circle cx="105.75" cy="201.19" r="0.9" fill="#111" stroke="none" stroke-width="0"/>
<circle cx="106.95" cy="199.88" r="0.9" fill="#111" stroke="none" stroke-width="0"/>
<rect x="111.00" y="196.93" width="5.80" height="14.07" fill="#43ace0" stroke="none" stroke-width="0"/>
<line x1="113.90" y1="195.30" x2="113.90" y2="198.57" stroke="#111" stroke-width="0.6"/>
<line x1="112.70" y1="195.30" x2="115.10" y2="195.30" stroke="#111" stroke-width="0.6"/>
<circle cx="112.70" cy="196.28" r="0.9" fill="#111" stroke="none" stroke-width="0"/>
<circle cx="113.90" cy="198.57" r="0.9" fill="#111" stroke="none" stroke-width="0"/>
<circle cx="115.10" cy="197.26" r="0.9" fill="#111" stroke="none" stroke-width="0"/>
<text x="76.40" y="217.91" font-size="5.3" text-anchor="middle" fill="#222" font-weight="normal" stroke="#222" stroke-width="0.18">ZNF587</text>
<text x="105.80" y="217.91" font-size="5.3" text-anchor="middle" fill="#222" font-weight="normal" stroke="#222" stroke-width="0.18">ZNF417</text>
<line x1="69.40" y1="154.40" x2="87.40" y2="154.40" stroke="#999" stroke-width="0.6"/>
<circle cx="78.70" cy="151.40" r="1.4" fill="#111" stroke="none" stroke-width="0"/>
<line x1="69.40" y1="160.90" x2="76.80" y2="160.90" stroke="#999" stroke-width="0.6"/>
<circle cx="72.70" cy="157.60" r="1.4" fill="#111" stroke="none" stroke-width="0"/>
<line x1="97.20" y1="154.40" x2="115.20" y2="154.40" stroke="#999" stroke-width="0.6"/>
<circle cx="107.00" cy="151.40" r="1.4" fill="#111" stroke="none" stroke-width="0"/>
<line x1="97.20" y1="160.90" x2="104.50" y2="160.90" stroke="#999" stroke-width="0.6"/>
<circle cx="101.30" cy="157.60" r="1.4" fill="#111" stroke="none" stroke-width="0"/>
<rect x="53.90" y="222.80" width="6.50" height="3.60" fill="#8c1a4b" stroke="none" stroke-width="0"/>
<text x="62.00" y="226.40" font-size="5.0" text-anchor="start" fill="#222" font-weight="normal" stroke="#222" stroke-width="0.18">ShScramble</text>
<rect x="53.90" y="229.10" width="6.50" height="3.60" fill="#2574bb" stroke="none" stroke-width="0"/>
<text x="62.00" y="232.70" font-size="5.0" text-anchor="start" fill="#222" font-weight="normal" stroke="#222" stroke-width="0.18">ShRNA.1</text>
<rect x="53.90" y="235.40" width="6.50" height="3.60" fill="#43ace0" stroke="none" stroke-width="0"/>
<text x="62.00" y="239.00" font-size="5.0" text-anchor="start" fill="#222" font-weight="normal" stroke="#222" stroke-width="0.18">ShRNA.2</text>
</g>
<g font-family='"Liberation Sans", sans-serif'>
<text x="207.90" y="136.00" font-size="13.6" text-anchor="start" fill="#111" font-weight="bold">D</text>
<text x="340.20" y="135.48" font-size="8.0" text-anchor="start" fill="#222" font-weight="normal" stroke="#222" stroke-width="0.1">Hallmark GSEA</text>
<text x="340.20" y="144.98" font-size="8.0" text-anchor="start" fill="#222" font-weight="normal" stroke="#222" stroke-width="0.1">U2932 Day 3 KD</text>
<line x1="229.50" y1="139.30" x2="229.50" y2="236.30" stroke="#333" stroke-width="0.8"/>
<line x1="225.80" y1="139.30" x2="229.50" y2="139.30" stroke="#333" stroke-width="0.8"/>
<text x="224.30" y="141.32" font-size="5.6" text-anchor="end" fill="#222" font-weight="normal" stroke="#222" stroke-width="0.18">3</text>
<line x1="225.80" y1="158.70" x2="229.50" y2="158.70" stroke="#333" stroke-width="0.8"/>
<text x="224.30" y="160.72" font-size="5.6" text-anchor="end" fill="#222" font-weight="normal" stroke="#222" stroke-width="0.18">2</text>
<line x1="225.80" y1="178.10" x2="229.50" y2="178.10" stroke="#333" stroke-width="0.8"/>
<text x="224.30" y="180.12" font-size="5.6" text-anchor="end" fill="#222" font-weight="normal" stroke="#222" stroke-width="0.18">1</text>
<line x1="225.80" y1="197.50" x2="229.50" y2="197.50" stroke="#333" stroke-width="0.8"/>
<text x="224.30" y="199.52" font-size="5.6" text-anchor="end" fill="#222" font-weight="normal" stroke="#222" stroke-width="0.18">0</text>
<line x1="225.80" y1="216.90" x2="229.50" y2="216.90" stroke="#333" stroke-width="0.8"/>
<text x="224.30" y="218.92" font-size="5.6" text-anchor="end" fill="#222" font-weight="normal" stroke="#222" stroke-width="0.18">-1</text>
<line x1="225.80" y1="236.30" x2="229.50" y2="236.30" stroke="#333" stroke-width="0.8"/>
<text x="224.30" y="238.32" font-size="5.6" text-anchor="end" fill="#222" font-weight="normal" stroke="#222" stroke-width="0.18">-2</text>
<text x="212.00" y="192.10" font-size="8.6" text-anchor="middle" fill="#222" font-weight="normal" stroke="#222" stroke-width="0.1" transform="rotate(-90 212.00 189.00)">NES</text>
<line x1="229.50" y1="168.40" x2="516.00" y2="168.40" stroke="#bdbdbd" stroke-width="0.8"/>
<line x1="229.50" y1="226.60" x2="516.00" y2="226.60" stroke="#bdbdbd" stroke-width="0.8"/>
<rect x="234.85" y="143.18" width="10.30" height="54.32" fill="#1f9a55" stroke="none" stroke-width="0"/>
<rect x="247.02" y="164.52" width="10.30" height="32.98" fill="#1f9a55" stroke="none" stroke-width="0"/>
<rect x="259.19" y="165.88" width="10.30" height="31.62" fill="#1f9a55" stroke="none" stroke-width="0"/>
<rect x="271.36" y="166.85" width="10.30" height="30.65" fill="#1f9a55" stroke="none" stroke-width="0"/>
<rect x="283.53" y="168.40" width="10.30" height="29.10" fill="#a6d5bd" stroke="none" stroke-width="0"/>
<rect x="295.70" y="168.40" width="10.30" height="29.10" fill="#a6d5bd" stroke="none" stroke-width="0"/>
<rect x="307.87" y="172.28" width="10.30" height="25.22" fill="#a6d5bd" stroke="none" stroke-width="0"/>
<rect x="320.04" y="174.22" width="10.30" height="23.28" fill="#a6d5bd" stroke="none" stroke-width="0"/>
<rect x="332.21" y="176.16" width="10.30" height="21.34" fill="#a6d5bd" stroke="none" stroke-width="0"/>
<rect x="344.38" y="177.13" width="10.30" height="20.37" fill="#a6d5bd" stroke="none" stroke-width="0"/>
<rect x="356.55" y="178.10" width="10.30" height="19.40" fill="#a6d5bd" stroke="none" stroke-width="0"/>
<rect x="368.73" y="179.65" width="10.30" height="17.85" fill="#a6d5bd" stroke="none" stroke-width="0"/>
<rect x="380.90" y="179.65" width="10.30" height="17.85" fill="#a6d5bd" stroke="none" stroke-width="0"/>
<rect x="393.07" y="181.98" width="10.30" height="15.52" fill="#a6d5bd" stroke="none" stroke-width="0"/>
<rect x="405.24" y="181.98" width="10.30" height="15.52" fill="#a6d5bd" stroke="none" stroke-width="0"/>
<rect x="417.41" y="185.08" width="10.30" height="12.42" fill="#a6d5bd" stroke="none" stroke-width="0"/>
<rect x="429.58" y="187.41" width="10.30" height="10.09" fill="#a6d5bd" stroke="none" stroke-width="0"/>
<rect x="441.75" y="197.50" width="10.30" height="13.58" fill="#f0ea74" stroke="none" stroke-width="0"/>
<rect x="453.92" y="197.50" width="10.30" height="15.33" fill="#f0ea74" stroke="none" stroke-width="0"/>
<rect x="466.09" y="197.50" width="10.30" height="17.46" fill="#f0ea74" stroke="none" stroke-width="0"/>
<rect x="478.26" y="197.50" width="10.30" height="17.46" fill="#f0ea74" stroke="none" stroke-width="0"/>
<rect x="490.43" y="197.50" width="10.30" height="19.01" fill="#f0ea74" stroke="none" stroke-width="0"/>
<rect x="502.60" y="197.50" width="10.30" height="25.22" fill="#f0ea74" stroke="none" stroke-width="0"/>
<line x1="229.50" y1="197.50" x2="516.00" y2="197.50" stroke="#555" stroke-width="0.9"/>
<circle cx="235.65" cy="141.00" r="1.2" fill="#111" stroke="none" stroke-width="0"/>
<circle cx="238.55" cy="141.00" r="1.2" fill="#111" stroke="none" stroke-width="0"/>
<circle cx="241.45" cy="141.00" r="1.2" fill="#111" stroke="none" stroke-width="0"/>
<circle cx="244.35" cy="141.00" r="1.2" fill="#111" stroke="none" stroke-width="0"/>
<circle cx="250.72" cy="161.80" r="1.2" fill="#111" stroke="none" stroke-width="0"/>
<circle cx="253.62" cy="161.80" r="1.2" fill="#111" stroke="none" stroke-width="0"/>
<circle cx="264.34" cy="164.10" r="1.2" fill="#111" stroke="none" stroke-width="0"/>
<circle cx="276.51" cy="164.80" r="1.2" fill="#111" stroke="none" stroke-width="0"/>
<line x1="229.50" y1="236.30" x2="516.00" y2="236.30" stroke="#333" stroke-width="0.8"/>
<line x1="240.00" y1="236.30" x2="240.00" y2="240.30" stroke="#555" stroke-width="0.9"/>
<text x="239.60" y="247.38" font-size="6.9" text-anchor="end" fill="#1a1a1a" font-weight="normal" stroke="#1a1a1a" stroke-width="0.18" transform="rotate(-45 239.60 244.90)">UV response UP</text>
<line x1="252.17" y1="236.30" x2="252.17" y2="240.30" stroke="#555" stroke-width="0.9"/>
<text x="251.77" y="247.38" font-size="6.9" text-anchor="end" fill="#5bb5e6" font-weight="normal" stroke="#5bb5e6" stroke-width="0.18" transform="rotate(-45 251.77 244.90)">IFN&#947; response</text>
<line x1="264.34" y1="236.30" x2="264.34" y2="240.30" stroke="#555" stroke-width="0.9"/>
<text x="263.94" y="247.38" font-size="6.9" text-anchor="end" fill="#5bb5e6" font-weight="normal" stroke="#5bb5e6" stroke-width="0.18" transform="rotate(-45 263.94 244.90)">TNFa signaling via NFKB</text>
<line x1="276.51" y1="236.30" x2="276.51" y2="240.30" stroke="#555" stroke-width="0.9"/>
<text x="276.11" y="247.38" font-size="6.9" text-anchor="end" fill="#5bb5e6" font-weight="normal" stroke="#5bb5e6" stroke-width="0.18" transform="rotate(-45 276.11 244.90)">Inflammatory response</text>
<line x1="288.68" y1="236.30" x2="288.68" y2="240.30" stroke="#555" stroke-width="0.9"/>
<text x="288.28" y="247.38" font-size="6.9" text-anchor="end" fill="#1a1a1a" font-weight="normal" stroke="#1a1a1a" stroke-width="0.18" transform="rotate(-45 288.28 244.90)">Glycolysis</text>
<line x1="300.85" y1="236.30" x2="300.85" y2="240.30" stroke="#555" stroke-width="0.9"/>
<text x="300.45" y="247.38" font-size="6.9" text-anchor="end" fill="#5bb5e6" font-weight="normal" stroke="#5bb5e6" stroke-width="0.18" transform="rotate(-45 300.45 244.90)">IL2 STAT5 signaling</text>
<line x1="313.02" y1="236.30" x2="313.02" y2="240.30" stroke="#555" stroke-width="0.9"/>
<text x="312.62" y="247.38" font-size="6.9" text-anchor="end" fill="#1a1a1a" font-weight="normal" stroke="#1a1a1a" stroke-width="0.18" transform="rotate(-45 312.62 244.90)">P53 pathway</text>
<line x1="325.19" y1="236.30" x2="325.19" y2="240.30" stroke="#555" stroke-width="0.9"/>
<text x="324.79" y="247.38" font-size="6.9" text-anchor="end" fill="#5bb5e6" font-weight="normal" stroke="#5bb5e6" stroke-width="0.18" transform="rotate(-45 324.79 244.90)">Xenobiotic metabolism</text>
<line x1="337.36" y1="236.30" x2="337.36" y2="240.30" stroke="#555" stroke-width="0.9"/>
<text x="336.96" y="247.38" font-size="6.9" text-anchor="end" fill="#5bb5e6" font-weight="normal" stroke="#5bb5e6" stroke-width="0.18" transform="rotate(-45 336.96 244.90)">Allograft rejection</text>
<line x1="349.53" y1="236.30" x2="349.53" y2="240.30" stroke="#555" stroke-width="0.9"/>
<text x="349.13" y="247.38" font-size="6.9" text-anchor="end" fill="#5bb5e6" font-weight="normal" stroke="#5bb5e6" stroke-width="0.18" transform="rotate(-45 349.13 244.90)">Estrogen response late</text>
<line x1="361.70" y1="236.30" x2="361.70" y2="240.30" stroke="#555" stroke-width="0.9"/>
<text x="361.30" y="247.38" font-size="6.9" text-anchor="end" fill="#5bb5e6" font-weight="normal" stroke="#5bb5e6" stroke-width="0.18" transform="rotate(-45 361.30 244.90)">Hypoxia</text>
<line x1="373.88" y1="236.30" x2="373.88" y2="240.30" stroke="#555" stroke-width="0.9"/>
<text x="373.48" y="247.38" font-size="6.9" text-anchor="end" fill="#d6504f" font-weight="normal" stroke="#d6504f" stroke-width="0.18" transform="rotate(-45 373.48 244.90)">G<tspan font-size="4.5" dy="1.5">2</tspan><tspan dy="-1.5">&#8211;M checkpoint</tspan></text>
<line x1="386.05" y1="236.30" x2="386.05" y2="240.30" stroke="#555" stroke-width="0.9"/>
<text x="385.65" y="247.38" font-size="6.9" text-anchor="end" fill="#d6504f" font-weight="normal" stroke="#d6504f" stroke-width="0.18" transform="rotate(-45 385.65 244.90)">MTORC1 signaling</text>
<line x1="398.22" y1="236.30" x2="398.22" y2="240.30" stroke="#555" stroke-width="0.9"/>
<text x="397.82" y="247.38" font-size="6.9" text-anchor="end" fill="#5bb5e6" font-weight="normal" stroke="#5bb5e6" stroke-width="0.18" transform="rotate(-45 397.82 244.90)">Apoptosis</text>
<line x1="410.39" y1="236.30" x2="410.39" y2="240.30" stroke="#555" stroke-width="0.9"/>
<text x="409.99" y="247.38" font-size="6.9" text-anchor="end" fill="#5bb5e6" font-weight="normal" stroke="#5bb5e6" stroke-width="0.18" transform="rotate(-45 409.99 244.90)">Estrogen response early</text>
<line x1="422.56" y1="236.30" x2="422.56" y2="240.30" stroke="#555" stroke-width="0.9"/>
<text x="422.16" y="247.38" font-size="6.9" text-anchor="end" fill="#5bb5e6" font-weight="normal" stroke="#5bb5e6" stroke-width="0.18" transform="rotate(-45 422.16 244.90)">Apical junction</text>
<line x1="434.73" y1="236.30" x2="434.73" y2="240.30" stroke="#555" stroke-width="0.9"/>
<text x="434.33" y="247.38" font-size="6.9" text-anchor="end" fill="#5bb5e6" font-weight="normal" stroke="#5bb5e6" stroke-width="0.18" transform="rotate(-45 434.33 244.90)">UV response DN</text>
<line x1="446.90" y1="236.30" x2="446.90" y2="240.30" stroke="#555" stroke-width="0.9"/>
<text x="446.50" y="247.38" font-size="6.9" text-anchor="end" fill="#d6504f" font-weight="normal" stroke="#d6504f" stroke-width="0.18" transform="rotate(-45 446.50 244.90)">E2F targets</text>
<line x1="459.07" y1="236.30" x2="459.07" y2="240.30" stroke="#555" stroke-width="0.9"/>
<text x="458.67" y="247.38" font-size="6.9" text-anchor="end" fill="#1a1a1a" font-weight="normal" stroke="#1a1a1a" stroke-width="0.18" transform="rotate(-45 458.67 244.90)">PI3K&#8211;AKT&#8211;MTOR signaling</text>
<line x1="471.24" y1="236.30" x2="471.24" y2="240.30" stroke="#555" stroke-width="0.9"/>
<text x="470.84" y="247.38" font-size="6.9" text-anchor="end" fill="#5bb5e6" font-weight="normal" stroke="#5bb5e6" stroke-width="0.18" transform="rotate(-45 470.84 244.90)">Adipogenesis</text>
<line x1="483.41" y1="236.30" x2="483.41" y2="240.30" stroke="#555" stroke-width="0.9"/>
<text x="483.01" y="247.38" font-size="6.9" text-anchor="end" fill="#d6504f" font-weight="normal" stroke="#d6504f" stroke-width="0.18" transform="rotate(-45 483.01 244.90)">DNA repair</text>
<line x1="495.58" y1="236.30" x2="495.58" y2="240.30" stroke="#555" stroke-width="0.9"/>
<text x="495.18" y="247.38" font-size="6.9" text-anchor="end" fill="#1a1a1a" font-weight="normal" stroke="#1a1a1a" stroke-width="0.18" transform="rotate(-45 495.18 244.90)">Heme metabolism</text>
<line x1="507.75" y1="236.30" x2="507.75" y2="240.30" stroke="#555" stroke-width="0.9"/>
<text x="507.35" y="247.38" font-size="6.9" text-anchor="end" fill="#d6504f" font-weight="normal" stroke="#d6504f" stroke-width="0.18" transform="rotate(-45 507.35 244.90)">Mitotic spindle</text>
</g>
<g font-family='"Liberation Sans", sans-serif'>
<text x="3.00" y="322.30" font-size="13.6" text-anchor="start" fill="#111" font-weight="bold">E</text>
<text x="35.50" y="337.59" font-size="7.2" text-anchor="middle" fill="#222" font-weight="normal" stroke="#222" stroke-width="0.1">U2932</text>
<text x="88.50" y="337.70" font-size="7.5" text-anchor="middle" fill="#222" font-weight="normal" stroke="#222" stroke-width="0.1">ShScramble</text>
<text x="200.00" y="337.70" font-size="7.5" text-anchor="middle" fill="#222" font-weight="normal" stroke="#222" stroke-width="0.1">ShRNA.1</text>
<defs><clipPath id="cp1"><rect x="40.4" y="341" width="98" height="103.4"/></clipPath><clipPath id="cp2"><rect x="154.4" y="341" width="96.6" height="103.4"/></clipPath></defs>
<rect x="40.40" y="341.00" width="98.00" height="103.40" fill="none" stroke="#333" stroke-width="0.8"/>
<line x1="40.40" y1="399.00" x2="138.40" y2="399.00" stroke="#333" stroke-width="0.8"/>
<line x1="105.20" y1="341.00" x2="105.20" y2="444.40" stroke="#333" stroke-width="0.8"/>
<rect x="154.40" y="341.00" width="96.60" height="103.40" fill="none" stroke="#333" stroke-width="0.8"/>
<line x1="154.40" y1="398.20" x2="251.00" y2="398.20" stroke="#333" stroke-width="0.8"/>
<line x1="218.70" y1="341.00" x2="218.70" y2="444.40" stroke="#333" stroke-width="0.8"/>
<defs><radialGradient id="gu1" gradientUnits="userSpaceOnUse" cx="90" cy="373" r="32"><stop offset="0" stop-color="#f7e6ee"/><stop offset="0.35" stop-color="#efc5d7"/><stop offset="0.75" stop-color="#dc7aa5"/><stop offset="1" stop-color="#c73a76"/></radialGradient><radialGradient id="gl1" gradientUnits="userSpaceOnUse" cx="90" cy="402" r="44" gradientTransform="translate(90 402) scale(1 0.5) translate(-90 -402)"><stop offset="0" stop-color="#f8e9f0"/><stop offset="0.3" stop-color="#f0c8da"/><stop offset="0.7" stop-color="#e08fb3"/><stop offset="1" stop-color="#d0598d"/></radialGradient><radialGradient id="gu2" gradientUnits="userSpaceOnUse" cx="206" cy="365" r="24"><stop offset="0" stop-color="#f2f1f7"/><stop offset="0.6" stop-color="#dcebf7"/><stop offset="1" stop-color="#c2dbf1"/></radialGradient><radialGradient id="gl2" gradientUnits="userSpaceOnUse" cx="200" cy="407" r="32" gradientTransform="translate(200 407) scale(1 0.6) translate(-200 -407)"><stop offset="0" stop-color="#f1f0f6"/><stop offset="0.6" stop-color="#dbeaf7"/><stop offset="1" stop-color="#c5ddf2"/></radialGradient></defs>
<defs><radialGradient id="gu1b" gradientUnits="userSpaceOnUse" cx="99" cy="358" r="17"><stop offset="0" stop-color="#d4427f"/><stop offset="0.5" stop-color="#e27fab"/><stop offset="0.85" stop-color="#eec0d4"/><stop offset="1" stop-color="#f5dde8"/></radialGradient><linearGradient id="gl1b" gradientUnits="userSpaceOnUse" x1="93" y1="402" x2="72" y2="424"><stop offset="0" stop-color="#f8e4ed"/><stop offset="0.45" stop-color="#ebb0ca"/><stop offset="1" stop-color="#d7709f"/></linearGradient></defs>
<g clip-path="url(#cp1)">
<path d="M106.80,336.00 C109.05,335.08 115.90,335.08 117.50,336.00 C119.10,336.92 117.17,339.43 116.40,341.50 C115.63,343.57 113.85,346.10 112.90,348.40 C111.95,350.70 111.57,353.28 110.70,355.30 C109.83,357.32 108.48,358.77 107.70,360.50 C106.92,362.23 106.43,363.82 106.00,365.70 C105.57,367.58 105.97,370.07 105.10,371.80 C104.23,373.53 102.23,374.65 100.80,376.10 C99.37,377.55 97.32,379.27 96.50,380.50 C95.68,381.73 96.23,381.75 95.90,383.50 C95.57,385.25 94.40,388.42 94.50,391.00 C94.60,393.58 95.72,397.00 96.50,399.00 C97.28,401.00 98.30,401.17 99.20,403.00 C100.10,404.83 100.77,407.50 101.90,410.00 C103.03,412.50 105.40,416.00 106.00,418.00 C106.60,420.00 107.53,420.97 105.50,422.00 C103.47,423.03 100.22,423.77 93.80,424.20 C87.38,424.63 75.97,424.60 67.00,424.60 C58.03,424.60 45.50,424.27 40.00,424.20 C34.50,424.13 35.00,425.35 34.00,424.20 C33.00,423.05 33.00,418.45 34.00,417.30 C35.00,416.15 37.88,417.52 40.00,417.30 C42.12,417.08 43.33,416.67 46.70,416.00 C50.07,415.33 55.72,414.53 60.20,413.30 C64.68,412.07 70.10,410.73 73.60,408.60 C77.10,406.47 79.55,402.35 81.20,400.50 C82.85,398.65 83.50,398.17 83.50,397.50 C83.50,396.83 81.90,397.33 81.20,396.50 C80.50,395.67 79.43,393.85 79.30,392.50 C79.17,391.15 79.62,389.23 80.40,388.40 C81.18,387.57 83.10,388.40 84.00,387.50 C84.90,386.60 85.75,384.47 85.80,383.00 C85.85,381.53 84.83,380.13 84.30,378.70 C83.77,377.27 82.60,375.70 82.60,374.40 C82.60,373.10 83.65,373.22 84.30,370.90 C84.95,368.58 85.63,363.53 86.50,360.50 C87.37,357.47 87.70,354.87 89.50,352.70 C91.30,350.53 94.88,349.37 97.30,347.50 C99.72,345.63 102.42,343.42 104.00,341.50 C105.58,339.58 104.55,336.92 106.80,336.00Z" fill="#b8185c" stroke="none" stroke-width="0"/>
<path d="M107.60,340.50 C109.35,340.08 114.32,339.22 115.00,340.50 C115.68,341.78 112.62,345.78 111.70,348.20 C110.78,350.62 110.35,353.03 109.50,355.00 C108.65,356.97 107.37,358.25 106.60,360.00 C105.83,361.75 105.35,363.60 104.90,365.50 C104.45,367.40 104.73,369.82 103.90,371.40 C103.07,372.98 101.63,373.90 99.90,375.00 C98.17,376.10 95.75,377.62 93.50,378.00 C91.25,378.38 87.93,377.97 86.40,377.30 C84.87,376.63 84.40,375.13 84.30,374.00 C84.20,372.87 85.20,372.70 85.80,370.50 C86.40,368.30 87.08,363.62 87.90,360.80 C88.72,357.98 89.02,355.62 90.70,353.60 C92.38,351.58 95.70,350.47 98.00,348.70 C100.30,346.93 102.90,344.37 104.50,343.00 C106.10,341.63 105.85,340.92 107.60,340.50Z" fill="url(#gu1b)" stroke="none" stroke-width="0"/>
<path d="M84.20,401.60 C86.67,400.90 92.68,400.35 95.00,400.80 C97.32,401.25 97.15,402.67 98.10,404.30 C99.05,405.93 99.68,408.32 100.70,410.60 C101.72,412.88 103.68,416.27 104.20,418.00 C104.72,419.73 105.53,420.18 103.80,421.00 C102.07,421.82 99.93,422.52 93.80,422.90 C87.67,423.28 76.97,423.30 67.00,423.30 C57.03,423.30 39.50,423.68 34.00,422.90 C28.50,422.12 31.83,419.53 34.00,418.60 C36.17,417.67 42.57,417.97 47.00,417.30 C51.43,416.63 56.07,415.82 60.60,414.60 C65.13,413.38 70.93,411.60 74.20,410.00 C77.47,408.40 78.53,406.40 80.20,405.00 C81.87,403.60 81.73,402.30 84.20,401.60Z" fill="url(#gl1b)" stroke="none" stroke-width="0"/>
<path d="M40,419.6 Q62,417 78,411 Q88,406 94,403.5" fill="none" stroke="#e6a2c1" stroke-width="0.6"/>
<ellipse cx="80" cy="420" rx="21" ry="3.3" fill="none" stroke="#d35e93" stroke-width="0.8"/>
<ellipse cx="82" cy="420.4" rx="12.5" ry="2.1" fill="#eab1ca" stroke="#c9457e" stroke-width="0.8"/>
<ellipse cx="83" cy="420.5" rx="5.5" ry="0.9" fill="#f7e2eb"/>
<circle cx="99" cy="354.5" r="3.0" fill="#fdf5f8" stroke="#cf4a83" stroke-width="1.4"/>
<circle cx="81.90" cy="392.30" r="1.1" fill="#fbeef3" stroke="none" stroke-width="0"/>
</g>
<g clip-path="url(#cp2)">
<path d="M199.00,338.00 C204.50,336.67 229.50,337.00 234.00,338.00 C238.50,339.00 227.92,341.67 226.00,344.00 C224.08,346.33 223.25,349.50 222.50,352.00 C221.75,354.50 221.83,356.67 221.50,359.00 C221.17,361.33 220.78,363.83 220.50,366.00 C220.22,368.17 220.55,369.92 219.80,372.00 C219.05,374.08 217.63,376.50 216.00,378.50 C214.37,380.50 211.25,382.08 210.00,384.00 C208.75,385.92 208.58,388.00 208.50,390.00 C208.42,392.00 208.92,394.33 209.50,396.00 C210.08,397.67 211.25,398.50 212.00,400.00 C212.75,401.50 213.42,403.33 214.00,405.00 C214.58,406.67 215.08,408.17 215.50,410.00 C215.92,411.83 216.25,414.17 216.50,416.00 C216.75,417.83 218.92,419.70 217.00,421.00 C215.08,422.30 211.17,423.33 205.00,423.80 C198.83,424.27 188.33,423.90 180.00,423.80 C171.67,423.70 160.00,423.30 155.00,423.20 C150.00,423.10 150.83,424.32 150.00,423.20 C149.17,422.08 147.83,418.03 150.00,416.50 C152.17,414.97 158.67,415.08 163.00,414.00 C167.33,412.92 172.67,411.17 176.00,410.00 C179.33,408.83 181.25,408.17 183.00,407.00 C184.75,405.83 185.67,404.50 186.50,403.00 C187.33,401.50 187.17,399.75 188.00,398.00 C188.83,396.25 190.42,394.42 191.50,392.50 C192.58,390.58 194.25,388.42 194.50,386.50 C194.75,384.58 193.08,383.25 193.00,381.00 C192.92,378.75 193.50,376.17 194.00,373.00 C194.50,369.83 195.17,365.50 196.00,362.00 C196.83,358.50 198.17,354.67 199.00,352.00 C199.83,349.33 201.00,348.33 201.00,346.00 C201.00,343.67 193.50,339.33 199.00,338.00Z" fill="#bcd8ef" stroke="#a9cdea" stroke-width="0.4"/>
<path d="M203.00,341.50 C206.73,339.75 221.07,339.92 224.00,341.50 C226.93,343.08 221.47,347.92 220.60,351.00 C219.73,354.08 219.40,357.33 218.80,360.00 C218.20,362.67 218.03,364.50 217.00,367.00 C215.97,369.50 214.27,372.42 212.60,375.00 C210.93,377.58 208.77,380.92 207.00,382.50 C205.23,384.08 203.63,384.75 202.00,384.50 C200.37,384.25 197.93,383.08 197.20,381.00 C196.47,378.92 197.27,375.17 197.60,372.00 C197.93,368.83 198.53,365.33 199.20,362.00 C199.87,358.67 200.97,355.42 201.60,352.00 C202.23,348.58 199.27,343.25 203.00,341.50Z" fill="url(#gu2)" stroke="none" stroke-width="0"/>
<path d="M205.00,399.50 C207.33,399.83 208.67,400.92 210.00,402.50 C211.33,404.08 212.23,406.92 213.00,409.00 C213.77,411.08 214.30,413.17 214.60,415.00 C214.90,416.83 217.23,418.87 214.80,420.00 C212.37,421.13 206.63,421.50 200.00,421.80 C193.37,422.10 183.00,421.90 175.00,421.80 C167.00,421.70 155.83,421.80 152.00,421.20 C148.17,420.60 149.00,419.27 152.00,418.20 C155.00,417.13 165.00,415.97 170.00,414.80 C175.00,413.63 178.67,412.80 182.00,411.20 C185.33,409.60 187.67,406.98 190.00,405.20 C192.33,403.42 193.50,401.45 196.00,400.50 C198.50,399.55 202.67,399.17 205.00,399.50Z" fill="url(#gl2)" stroke="none" stroke-width="0"/>
<path d="M203.00,386.50 C204.00,385.08 207.08,384.25 208.00,385.00 C208.92,385.75 208.83,389.33 208.50,391.00 C208.17,392.67 207.08,394.58 206.00,395.00 C204.92,395.42 202.50,394.92 202.00,393.50 C201.50,392.08 202.00,387.92 203.00,386.50Z" fill="#a6cdec" stroke="none" stroke-width="0"/>
<path d="M189.50,398.50 C190.42,397.50 192.92,396.58 194.00,397.00 C195.08,397.42 196.33,399.75 196.00,401.00 C195.67,402.25 193.25,404.17 192.00,404.50 C190.75,404.83 188.92,404.00 188.50,403.00 C188.08,402.00 188.58,399.50 189.50,398.50Z" fill="#a9cfec" stroke="none" stroke-width="0"/>
<ellipse cx="212" cy="352.5" rx="4.5" ry="3.5" fill="none" stroke="#a9cfec" stroke-width="0.6"/>
<ellipse cx="211" cy="354" rx="2" ry="1.5" fill="none" stroke="#a9cfec" stroke-width="0.5"/>
<ellipse cx="192" cy="417" rx="20" ry="3.6" fill="none" stroke="#a9cfec" stroke-width="0.6"/>
<path d="M160,419 Q180,413 198,400 Q205,394 212,405" fill="none" stroke="#b3d4ee" stroke-width="0.5"/>
</g>
<text x="48.10" y="361.32" font-size="5.9" text-anchor="start" fill="#333" font-weight="normal" stroke="#333" stroke-width="0.18">Necrotic</text>
<text x="48.10" y="368.42" font-size="5.9" text-anchor="start" fill="#333" font-weight="normal" stroke="#333" stroke-width="0.18">(15.5%)</text>
<text x="123.80" y="361.32" font-size="5.9" text-anchor="middle" fill="#333" font-weight="normal" stroke="#333" stroke-width="0.18">Necrotic/</text>
<text x="123.80" y="368.42" font-size="5.9" text-anchor="middle" fill="#333" font-weight="normal" stroke="#333" stroke-width="0.18">Apoptotic</text>
<text x="123.80" y="375.72" font-size="5.9" text-anchor="middle" fill="#333" font-weight="normal" stroke="#333" stroke-width="0.18">(1.84%)</text>
<text x="47.10" y="439.42" font-size="5.9" text-anchor="start" fill="#333" font-weight="normal" stroke="#333" stroke-width="0.18">Viable (82.5%)</text>
<text x="123.80" y="433.12" font-size="5.9" text-anchor="middle" fill="#333" font-weight="normal" stroke="#333" stroke-width="0.18">Apoptotic</text>
<text x="123.80" y="439.92" font-size="5.9" text-anchor="middle" fill="#333" font-weight="normal" stroke="#333" stroke-width="0.18">(0.09%)</text>
<text x="161.80" y="361.32" font-size="5.9" text-anchor="start" fill="#333" font-weight="normal" stroke="#333" stroke-width="0.18">Necrotic</text>
<text x="161.80" y="368.42" font-size="5.9" text-anchor="start" fill="#333" font-weight="normal" stroke="#333" stroke-width="0.18">(22.8%)</text>
<text x="237.80" y="361.32" font-size="5.9" text-anchor="middle" fill="#333" font-weight="normal" stroke="#333" stroke-width="0.18">Necrotic/</text>
<text x="237.80" y="368.42" font-size="5.9" text-anchor="middle" fill="#333" font-weight="normal" stroke="#333" stroke-width="0.18">Apoptotic</text>
<text x="237.80" y="375.72" font-size="5.9" text-anchor="middle" fill="#333" font-weight="normal" stroke="#333" stroke-width="0.18">(3.9%)</text>
<text x="162.10" y="439.42" font-size="5.9" text-anchor="start" fill="#333" font-weight="normal" stroke="#333" stroke-width="0.18">Viable (73.2%)</text>
<text x="237.80" y="433.12" font-size="5.9" text-anchor="middle" fill="#333" font-weight="normal" stroke="#333" stroke-width="0.18">Apoptotic</text>
<text x="237.80" y="439.92" font-size="5.9" text-anchor="middle" fill="#333" font-weight="normal" stroke="#333" stroke-width="0.18">(0.13%)</text>
<line x1="38.90" y1="350.00" x2="40.40" y2="350.00" stroke="#333" stroke-width="0.6"/>
<text x="37.90" y="352.09" font-size="5.8" text-anchor="end" fill="#222" stroke="#222" stroke-width="0.15">10<tspan font-size="4.18" dy="-2.90">5</tspan></text>
<line x1="38.90" y1="377.50" x2="40.40" y2="377.50" stroke="#333" stroke-width="0.6"/>
<text x="37.90" y="379.59" font-size="5.8" text-anchor="end" fill="#222" stroke="#222" stroke-width="0.15">10<tspan font-size="4.18" dy="-2.90">4</tspan></text>
<line x1="38.90" y1="404.50" x2="40.40" y2="404.50" stroke="#333" stroke-width="0.6"/>
<text x="37.90" y="406.59" font-size="5.8" text-anchor="end" fill="#222" stroke="#222" stroke-width="0.15">10<tspan font-size="4.18" dy="-2.90">3</tspan></text>
<line x1="38.90" y1="421.00" x2="40.40" y2="421.00" stroke="#333" stroke-width="0.6"/>
<text x="37.40" y="422.87" font-size="5.2" text-anchor="end" fill="#222" font-weight="normal" stroke="#222" stroke-width="0.18">0</text>
<line x1="38.90" y1="437.50" x2="40.40" y2="437.50" stroke="#333" stroke-width="0.6"/>
<text x="37.90" y="439.59" font-size="5.8" text-anchor="end" fill="#222" stroke="#222" stroke-width="0.15">-10<tspan font-size="4.18" dy="-2.90">3</tspan></text>
<line x1="39.50" y1="343.00" x2="40.40" y2="343.00" stroke="#555" stroke-width="0.4"/>
<line x1="39.50" y1="348.00" x2="40.40" y2="348.00" stroke="#555" stroke-width="0.4"/>
<line x1="39.50" y1="353.00" x2="40.40" y2="353.00" stroke="#555" stroke-width="0.4"/>
<line x1="39.50" y1="358.00" x2="40.40" y2="358.00" stroke="#555" stroke-width="0.4"/>
<line x1="39.50" y1="363.00" x2="40.40" y2="363.00" stroke="#555" stroke-width="0.4"/>
<line x1="39.50" y1="368.00" x2="40.40" y2="368.00" stroke="#555" stroke-width="0.4"/>
<line x1="39.50" y1="373.00" x2="40.40" y2="373.00" stroke="#555" stroke-width="0.4"/>
<line x1="39.50" y1="378.00" x2="40.40" y2="378.00" stroke="#555" stroke-width="0.4"/>
<line x1="39.50" y1="383.00" x2="40.40" y2="383.00" stroke="#555" stroke-width="0.4"/>
<line x1="39.50" y1="388.00" x2="40.40" y2="388.00" stroke="#555" stroke-width="0.4"/>
<line x1="39.50" y1="393.00" x2="40.40" y2="393.00" stroke="#555" stroke-width="0.4"/>
<line x1="39.50" y1="398.00" x2="40.40" y2="398.00" stroke="#555" stroke-width="0.4"/>
<line x1="39.50" y1="403.00" x2="40.40" y2="403.00" stroke="#555" stroke-width="0.4"/>
<line x1="39.50" y1="408.00" x2="40.40" y2="408.00" stroke="#555" stroke-width="0.4"/>
<line x1="39.50" y1="413.00" x2="40.40" y2="413.00" stroke="#555" stroke-width="0.4"/>
<line x1="39.50" y1="418.00" x2="40.40" y2="418.00" stroke="#555" stroke-width="0.4"/>
<line x1="39.50" y1="423.00" x2="40.40" y2="423.00" stroke="#555" stroke-width="0.4"/>
<line x1="39.50" y1="428.00" x2="40.40" y2="428.00" stroke="#555" stroke-width="0.4"/>
<line x1="39.50" y1="433.00" x2="40.40" y2="433.00" stroke="#555" stroke-width="0.4"/>
<line x1="39.50" y1="438.00" x2="40.40" y2="438.00" stroke="#555" stroke-width="0.4"/>
<line x1="152.90" y1="350.00" x2="154.40" y2="350.00" stroke="#333" stroke-width="0.6"/>
<text x="151.90" y="352.09" font-size="5.8" text-anchor="end" fill="#222" stroke="#222" stroke-width="0.15">10<tspan font-size="4.18" dy="-2.90">5</tspan></text>
<line x1="152.90" y1="377.50" x2="154.40" y2="377.50" stroke="#333" stroke-width="0.6"/>
<text x="151.90" y="379.59" font-size="5.8" text-anchor="end" fill="#222" stroke="#222" stroke-width="0.15">10<tspan font-size="4.18" dy="-2.90">4</tspan></text>
<line x1="152.90" y1="404.00" x2="154.40" y2="404.00" stroke="#333" stroke-width="0.6"/>
<text x="151.90" y="406.09" font-size="5.8" text-anchor="end" fill="#222" stroke="#222" stroke-width="0.15">10<tspan font-size="4.18" dy="-2.90">3</tspan></text>
<line x1="152.90" y1="420.00" x2="154.40" y2="420.00" stroke="#333" stroke-width="0.6"/>
<text x="151.40" y="421.87" font-size="5.2" text-anchor="end" fill="#222" font-weight="normal" stroke="#222" stroke-width="0.18">0</text>
<line x1="152.90" y1="436.50" x2="154.40" y2="436.50" stroke="#333" stroke-width="0.6"/>
<text x="151.90" y="438.59" font-size="5.8" text-anchor="end" fill="#222" stroke="#222" stroke-width="0.15">-10<tspan font-size="4.18" dy="-2.90">3</tspan></text>
<line x1="153.50" y1="343.00" x2="154.40" y2="343.00" stroke="#555" stroke-width="0.4"/>
<line x1="153.50" y1="348.00" x2="154.40" y2="348.00" stroke="#555" stroke-width="0.4"/>
<line x1="153.50" y1="353.00" x2="154.40" y2="353.00" stroke="#555" stroke-width="0.4"/>
<line x1="153.50" y1="358.00" x2="154.40" y2="358.00" stroke="#555" stroke-width="0.4"/>
<line x1="153.50" y1="363.00" x2="154.40" y2="363.00" stroke="#555" stroke-width="0.4"/>
<line x1="153.50" y1="368.00" x2="154.40" y2="368.00" stroke="#555" stroke-width="0.4"/>
<line x1="153.50" y1="373.00" x2="154.40" y2="373.00" stroke="#555" stroke-width="0.4"/>
<line x1="153.50" y1="378.00" x2="154.40" y2="378.00" stroke="#555" stroke-width="0.4"/>
<line x1="153.50" y1="383.00" x2="154.40" y2="383.00" stroke="#555" stroke-width="0.4"/>
<line x1="153.50" y1="388.00" x2="154.40" y2="388.00" stroke="#555" stroke-width="0.4"/>
<line x1="153.50" y1="393.00" x2="154.40" y2="393.00" stroke="#555" stroke-width="0.4"/>
<line x1="153.50" y1="398.00" x2="154.40" y2="398.00" stroke="#555" stroke-width="0.4"/>
<line x1="153.50" y1="403.00" x2="154.40" y2="403.00" stroke="#555" stroke-width="0.4"/>
<line x1="153.50" y1="408.00" x2="154.40" y2="408.00" stroke="#555" stroke-width="0.4"/>
<line x1="153.50" y1="413.00" x2="154.40" y2="413.00" stroke="#555" stroke-width="0.4"/>
<line x1="153.50" y1="418.00" x2="154.40" y2="418.00" stroke="#555" stroke-width="0.4"/>
<line x1="153.50" y1="423.00" x2="154.40" y2="423.00" stroke="#555" stroke-width="0.4"/>
<line x1="153.50" y1="428.00" x2="154.40" y2="428.00" stroke="#555" stroke-width="0.4"/>
<line x1="153.50" y1="433.00" x2="154.40" y2="433.00" stroke="#555" stroke-width="0.4"/>
<line x1="153.50" y1="438.00" x2="154.40" y2="438.00" stroke="#555" stroke-width="0.4"/>
<line x1="51.00" y1="444.40" x2="51.00" y2="445.90" stroke="#333" stroke-width="0.6"/>
<text x="52.50" y="454.59" font-size="5.8" text-anchor="middle" fill="#222" stroke="#222" stroke-width="0.15">-10<tspan font-size="4.18" dy="-2.90">3</tspan></text>
<line x1="65.50" y1="444.40" x2="65.50" y2="445.90" stroke="#333" stroke-width="0.6"/>
<text x="65.50" y="454.37" font-size="5.2" text-anchor="middle" fill="#222" font-weight="normal" stroke="#222" stroke-width="0.18">0</text>
<line x1="81.00" y1="444.40" x2="81.00" y2="445.90" stroke="#333" stroke-width="0.6"/>
<text x="82.50" y="454.59" font-size="5.8" text-anchor="middle" fill="#222" stroke="#222" stroke-width="0.15">10<tspan font-size="4.18" dy="-2.90">3</tspan></text>
<line x1="107.50" y1="444.40" x2="107.50" y2="445.90" stroke="#333" stroke-width="0.6"/>
<text x="109.00" y="454.59" font-size="5.8" text-anchor="middle" fill="#222" stroke="#222" stroke-width="0.15">10<tspan font-size="4.18" dy="-2.90">4</tspan></text>
<line x1="130.00" y1="444.40" x2="130.00" y2="445.90" stroke="#333" stroke-width="0.6"/>
<text x="131.50" y="454.59" font-size="5.8" text-anchor="middle" fill="#222" stroke="#222" stroke-width="0.15">10<tspan font-size="4.18" dy="-2.90">5</tspan></text>
<line x1="43.00" y1="444.40" x2="43.00" y2="445.30" stroke="#555" stroke-width="0.4"/>
<line x1="48.30" y1="444.40" x2="48.30" y2="445.30" stroke="#555" stroke-width="0.4"/>
<line x1="53.60" y1="444.40" x2="53.60" y2="445.30" stroke="#555" stroke-width="0.4"/>
<line x1="58.90" y1="444.40" x2="58.90" y2="445.30" stroke="#555" stroke-width="0.4"/>
<line x1="64.20" y1="444.40" x2="64.20" y2="445.30" stroke="#555" stroke-width="0.4"/>
<line x1="69.50" y1="444.40" x2="69.50" y2="445.30" stroke="#555" stroke-width="0.4"/>
<line x1="74.80" y1="444.40" x2="74.80" y2="445.30" stroke="#555" stroke-width="0.4"/>
<line x1="80.10" y1="444.40" x2="80.10" y2="445.30" stroke="#555" stroke-width="0.4"/>
<line x1="85.40" y1="444.40" x2="85.40" y2="445.30" stroke="#555" stroke-width="0.4"/>
<line x1="90.70" y1="444.40" x2="90.70" y2="445.30" stroke="#555" stroke-width="0.4"/>
<line x1="96.00" y1="444.40" x2="96.00" y2="445.30" stroke="#555" stroke-width="0.4"/>
<line x1="101.30" y1="444.40" x2="101.30" y2="445.30" stroke="#555" stroke-width="0.4"/>
<line x1="106.60" y1="444.40" x2="106.60" y2="445.30" stroke="#555" stroke-width="0.4"/>
<line x1="111.90" y1="444.40" x2="111.90" y2="445.30" stroke="#555" stroke-width="0.4"/>
<line x1="117.20" y1="444.40" x2="117.20" y2="445.30" stroke="#555" stroke-width="0.4"/>
<line x1="122.50" y1="444.40" x2="122.50" y2="445.30" stroke="#555" stroke-width="0.4"/>
<line x1="127.80" y1="444.40" x2="127.80" y2="445.30" stroke="#555" stroke-width="0.4"/>
<line x1="133.10" y1="444.40" x2="133.10" y2="445.30" stroke="#555" stroke-width="0.4"/>
<line x1="138.40" y1="444.40" x2="138.40" y2="445.30" stroke="#555" stroke-width="0.4"/>
<line x1="166.00" y1="444.40" x2="166.00" y2="445.90" stroke="#333" stroke-width="0.6"/>
<text x="167.50" y="454.59" font-size="5.8" text-anchor="middle" fill="#222" stroke="#222" stroke-width="0.15">-10<tspan font-size="4.18" dy="-2.90">3</tspan></text>
<line x1="179.00" y1="444.40" x2="179.00" y2="445.90" stroke="#333" stroke-width="0.6"/>
<text x="179.00" y="454.37" font-size="5.2" text-anchor="middle" fill="#222" font-weight="normal" stroke="#222" stroke-width="0.18">0</text>
<line x1="196.00" y1="444.40" x2="196.00" y2="445.90" stroke="#333" stroke-width="0.6"/>
<text x="197.50" y="454.59" font-size="5.8" text-anchor="middle" fill="#222" stroke="#222" stroke-width="0.15">10<tspan font-size="4.18" dy="-2.90">3</tspan></text>
<line x1="221.00" y1="444.40" x2="221.00" y2="445.90" stroke="#333" stroke-width="0.6"/>
<text x="222.50" y="454.59" font-size="5.8" text-anchor="middle" fill="#222" stroke="#222" stroke-width="0.15">10<tspan font-size="4.18" dy="-2.90">4</tspan></text>
<line x1="249.00" y1="444.40" x2="249.00" y2="445.90" stroke="#333" stroke-width="0.6"/>
<text x="250.50" y="454.59" font-size="5.8" text-anchor="middle" fill="#222" stroke="#222" stroke-width="0.15">10<tspan font-size="4.18" dy="-2.90">5</tspan></text>
<line x1="158.00" y1="444.40" x2="158.00" y2="445.30" stroke="#555" stroke-width="0.4"/>
<line x1="163.30" y1="444.40" x2="163.30" y2="445.30" stroke="#555" stroke-width="0.4"/>
<line x1="168.60" y1="444.40" x2="168.60" y2="445.30" stroke="#555" stroke-width="0.4"/>
<line x1="173.90" y1="444.40" x2="173.90" y2="445.30" stroke="#555" stroke-width="0.4"/>
<line x1="179.20" y1="444.40" x2="179.20" y2="445.30" stroke="#555" stroke-width="0.4"/>
<line x1="184.50" y1="444.40" x2="184.50" y2="445.30" stroke="#555" stroke-width="0.4"/>
<line x1="189.80" y1="444.40" x2="189.80" y2="445.30" stroke="#555" stroke-width="0.4"/>
<line x1="195.10" y1="444.40" x2="195.10" y2="445.30" stroke="#555" stroke-width="0.4"/>
<line x1="200.40" y1="444.40" x2="200.40" y2="445.30" stroke="#555" stroke-width="0.4"/>
<line x1="205.70" y1="444.40" x2="205.70" y2="445.30" stroke="#555" stroke-width="0.4"/>
<line x1="211.00" y1="444.40" x2="211.00" y2="445.30" stroke="#555" stroke-width="0.4"/>
<line x1="216.30" y1="444.40" x2="216.30" y2="445.30" stroke="#555" stroke-width="0.4"/>
<line x1="221.60" y1="444.40" x2="221.60" y2="445.30" stroke="#555" stroke-width="0.4"/>
<line x1="226.90" y1="444.40" x2="226.90" y2="445.30" stroke="#555" stroke-width="0.4"/>
<line x1="232.20" y1="444.40" x2="232.20" y2="445.30" stroke="#555" stroke-width="0.4"/>
<line x1="237.50" y1="444.40" x2="237.50" y2="445.30" stroke="#555" stroke-width="0.4"/>
<line x1="242.80" y1="444.40" x2="242.80" y2="445.30" stroke="#555" stroke-width="0.4"/>
<line x1="248.10" y1="444.40" x2="248.10" y2="445.30" stroke="#555" stroke-width="0.4"/>
<line x1="253.40" y1="444.40" x2="253.40" y2="445.30" stroke="#555" stroke-width="0.4"/>
<rect x="61.00" y="445.00" width="3.00" height="1.60" fill="#111" stroke="none" stroke-width="0"/>
<rect x="176.00" y="445.00" width="3.00" height="1.60" fill="#111" stroke="none" stroke-width="0"/>
<rect x="38.60" y="419.00" width="1.80" height="3.00" fill="#111" stroke="none" stroke-width="0"/>
<rect x="152.60" y="418.00" width="1.80" height="3.00" fill="#111" stroke="none" stroke-width="0"/>
<line x1="24.70" y1="341.50" x2="24.70" y2="362.30" stroke="#333" stroke-width="0.8"/>
<line x1="24.70" y1="418.00" x2="24.70" y2="462.30" stroke="#333" stroke-width="0.8"/>
<text x="23.80" y="392.76" font-size="7.1" text-anchor="middle" fill="#222" font-weight="normal" stroke="#222" stroke-width="0.1" transform="rotate(-90 23.80 390.20)">Propidium iodide</text>
<line x1="24.70" y1="462.30" x2="126.00" y2="462.30" stroke="#333" stroke-width="0.8"/>
<line x1="171.20" y1="462.30" x2="253.70" y2="462.30" stroke="#333" stroke-width="0.8"/>
<text x="148.30" y="465.41" font-size="7.8" text-anchor="middle" fill="#222" font-weight="normal" stroke="#222" stroke-width="0.1">Annexin V</text>
</g>
<g font-family='"Liberation Sans", sans-serif'>
<text x="277.70" y="321.15" font-size="13.6" text-anchor="start" fill="#111" font-weight="bold">F</text>
<line x1="302.70" y1="341.30" x2="302.70" y2="392.50" stroke="#333" stroke-width="0.8"/>
<line x1="302.70" y1="402.00" x2="302.70" y2="457.50" stroke="#333" stroke-width="0.8"/>
<line x1="299.30" y1="392.50" x2="302.70" y2="392.50" stroke="#333" stroke-width="0.8"/>
<text x="298.90" y="395.06" font-size="7.1" text-anchor="end" fill="#222" font-weight="normal" stroke="#222" stroke-width="0.1">60</text>
<line x1="299.30" y1="379.70" x2="302.70" y2="379.70" stroke="#333" stroke-width="0.8"/>
<text x="298.90" y="382.26" font-size="7.1" text-anchor="end" fill="#222" font-weight="normal" stroke="#222" stroke-width="0.1">70</text>
<line x1="299.30" y1="366.90" x2="302.70" y2="366.90" stroke="#333" stroke-width="0.8"/>
<text x="298.90" y="369.46" font-size="7.1" text-anchor="end" fill="#222" font-weight="normal" stroke="#222" stroke-width="0.1">80</text>
<line x1="299.30" y1="354.10" x2="302.70" y2="354.10" stroke="#333" stroke-width="0.8"/>
<text x="298.90" y="356.66" font-size="7.1" text-anchor="end" fill="#222" font-weight="normal" stroke="#222" stroke-width="0.1">90</text>
<line x1="299.30" y1="341.30" x2="302.70" y2="341.30" stroke="#333" stroke-width="0.8"/>
<text x="298.90" y="343.86" font-size="7.1" text-anchor="end" fill="#222" font-weight="normal" stroke="#222" stroke-width="0.1">100</text>
<line x1="299.30" y1="457.50" x2="302.70" y2="457.50" stroke="#333" stroke-width="0.8"/>
<text x="298.90" y="460.06" font-size="7.1" text-anchor="end" fill="#222" font-weight="normal" stroke="#222" stroke-width="0.1">0</text>
<line x1="299.30" y1="446.40" x2="302.70" y2="446.40" stroke="#333" stroke-width="0.8"/>
<text x="298.90" y="448.96" font-size="7.1" text-anchor="end" fill="#222" font-weight="normal" stroke="#222" stroke-width="0.1">5</text>
<line x1="299.30" y1="435.30" x2="302.70" y2="435.30" stroke="#333" stroke-width="0.8"/>
<text x="298.90" y="437.86" font-size="7.1" text-anchor="end" fill="#222" font-weight="normal" stroke="#222" stroke-width="0.1">10</text>
<line x1="299.30" y1="424.20" x2="302.70" y2="424.20" stroke="#333" stroke-width="0.8"/>
<text x="298.90" y="426.76" font-size="7.1" text-anchor="end" fill="#222" font-weight="normal" stroke="#222" stroke-width="0.1">15</text>
<line x1="299.30" y1="413.10" x2="302.70" y2="413.10" stroke="#333" stroke-width="0.8"/>
<text x="298.90" y="415.66" font-size="7.1" text-anchor="end" fill="#222" font-weight="normal" stroke="#222" stroke-width="0.1">20</text>
<line x1="299.30" y1="402.00" x2="302.70" y2="402.00" stroke="#333" stroke-width="0.8"/>
<text x="298.90" y="404.56" font-size="7.1" text-anchor="end" fill="#222" font-weight="normal" stroke="#222" stroke-width="0.1">25</text>
<line x1="302.70" y1="457.50" x2="366.00" y2="457.50" stroke="#333" stroke-width="0.8"/>
<text x="283.00" y="399.45" font-size="6.8" text-anchor="middle" fill="#222" font-weight="normal" stroke="#222" stroke-width="0.18" transform="rotate(-90 283.00 397.00)">Cells (%)</text>
<rect x="306.00" y="369.46" width="6.20" height="23.04" fill="#74ac5c" stroke="none" stroke-width="0"/>
<rect x="306.00" y="402.00" width="6.20" height="55.50" fill="#74ac5c" stroke="none" stroke-width="0"/>
<line x1="309.10" y1="365.96" x2="309.10" y2="372.96" stroke="#111" stroke-width="0.6"/>
<line x1="307.60" y1="365.96" x2="310.60" y2="365.96" stroke="#111" stroke-width="0.6"/>
<line x1="307.60" y1="372.96" x2="310.60" y2="372.96" stroke="#111" stroke-width="0.6"/>
<circle cx="307.80" cy="366.96" r="1.0" fill="#111" stroke="none" stroke-width="0"/>
<circle cx="309.10" cy="370.96" r="1.0" fill="#111" stroke="none" stroke-width="0"/>
<circle cx="310.40" cy="368.46" r="1.0" fill="#111" stroke="none" stroke-width="0"/>
<rect x="314.00" y="456.50" width="4.00" height="1.00" fill="#222" stroke="none" stroke-width="0"/>
<rect x="319.40" y="447.51" width="6.20" height="9.99" fill="#a98fd4" stroke="#333" stroke-width="0.3"/>
<line x1="322.50" y1="443.51" x2="322.50" y2="451.51" stroke="#111" stroke-width="0.6"/>
<line x1="321.00" y1="443.51" x2="324.00" y2="443.51" stroke="#111" stroke-width="0.6"/>
<circle cx="321.20" cy="444.51" r="1.0" fill="#111" stroke="none" stroke-width="0"/>
<circle cx="322.50" cy="448.51" r="1.0" fill="#111" stroke="none" stroke-width="0"/>
<circle cx="323.80" cy="450.51" r="1.0" fill="#111" stroke="none" stroke-width="0"/>
<rect x="326.00" y="421.98" width="6.20" height="35.52" fill="#5c8fc6" stroke="#333" stroke-width="0.3"/>
<line x1="329.10" y1="420.48" x2="329.10" y2="423.48" stroke="#111" stroke-width="0.6"/>
<line x1="327.60" y1="420.48" x2="330.60" y2="420.48" stroke="#111" stroke-width="0.6"/>
<circle cx="327.80" cy="420.48" r="1.0" fill="#111" stroke="none" stroke-width="0"/>
<circle cx="329.10" cy="422.48" r="1.0" fill="#111" stroke="none" stroke-width="0"/>
<circle cx="330.40" cy="421.98" r="1.0" fill="#111" stroke="none" stroke-width="0"/>
<rect x="338.00" y="379.06" width="6.40" height="13.44" fill="#74ac5c" stroke="none" stroke-width="0"/>
<rect x="338.00" y="402.00" width="6.40" height="55.50" fill="#74ac5c" stroke="none" stroke-width="0"/>
<line x1="341.20" y1="375.56" x2="341.20" y2="382.56" stroke="#111" stroke-width="0.6"/>
<line x1="339.70" y1="375.56" x2="342.70" y2="375.56" stroke="#111" stroke-width="0.6"/>
<line x1="339.70" y1="382.56" x2="342.70" y2="382.56" stroke="#111" stroke-width="0.6"/>
<circle cx="339.90" cy="376.56" r="1.0" fill="#111" stroke="none" stroke-width="0"/>
<circle cx="341.20" cy="379.06" r="1.0" fill="#111" stroke="none" stroke-width="0"/>
<circle cx="342.50" cy="380.56" r="1.0" fill="#111" stroke="none" stroke-width="0"/>
<rect x="346.00" y="456.50" width="4.00" height="1.00" fill="#222" stroke="none" stroke-width="0"/>
<rect x="351.00" y="444.62" width="6.40" height="12.88" fill="#a98fd4" stroke="#333" stroke-width="0.3"/>
<line x1="354.20" y1="440.62" x2="354.20" y2="448.62" stroke="#111" stroke-width="0.6"/>
<line x1="352.70" y1="440.62" x2="355.70" y2="440.62" stroke="#111" stroke-width="0.6"/>
<circle cx="352.90" cy="441.62" r="1.0" fill="#111" stroke="none" stroke-width="0"/>
<circle cx="354.20" cy="446.62" r="1.0" fill="#111" stroke="none" stroke-width="0"/>
<circle cx="355.50" cy="445.62" r="1.0" fill="#111" stroke="none" stroke-width="0"/>
<rect x="358.50" y="407.55" width="6.20" height="49.95" fill="#5c8fc6" stroke="#333" stroke-width="0.3"/>
<line x1="361.60" y1="406.35" x2="361.60" y2="408.75" stroke="#111" stroke-width="0.6"/>
<line x1="360.10" y1="406.35" x2="363.10" y2="406.35" stroke="#111" stroke-width="0.6"/>
<circle cx="360.30" cy="406.55" r="1.0" fill="#111" stroke="none" stroke-width="0"/>
<circle cx="361.60" cy="408.05" r="1.0" fill="#111" stroke="none" stroke-width="0"/>
<circle cx="362.90" cy="407.55" r="1.0" fill="#111" stroke="none" stroke-width="0"/>
<polyline points="308.60,363.00 308.60,353.50 341.80,353.50 341.80,372.00" stroke="#555" stroke-width="0.6" fill="none"/>
<polyline points="315.40,351.00 315.40,345.00 348.50,345.00 348.50,455.00" stroke="#888" stroke-width="0.6" fill="none"/>
<polyline points="322.00,342.70 322.00,336.80 355.00,336.80 355.00,441.00" stroke="#888" stroke-width="0.6" fill="none"/>
<polyline points="329.00,334.60 329.00,328.70 361.00,328.70 361.00,403.00" stroke="#555" stroke-width="0.6" fill="none"/>
<line x1="319.20" y1="346.20" x2="319.20" y2="350.40" stroke="#111" stroke-width="1.5750000000000002" stroke-linecap="round"/>
<line x1="317.38" y1="347.25" x2="321.02" y2="349.35" stroke="#111" stroke-width="1.5750000000000002" stroke-linecap="round"/>
<line x1="321.02" y1="347.25" x2="317.38" y2="349.35" stroke="#111" stroke-width="1.5750000000000002" stroke-linecap="round"/>
<line x1="325.00" y1="346.20" x2="325.00" y2="350.40" stroke="#111" stroke-width="1.5750000000000002" stroke-linecap="round"/>
<line x1="323.18" y1="347.25" x2="326.82" y2="349.35" stroke="#111" stroke-width="1.5750000000000002" stroke-linecap="round"/>
<line x1="326.82" y1="347.25" x2="323.18" y2="349.35" stroke="#111" stroke-width="1.5750000000000002" stroke-linecap="round"/>
<line x1="330.80" y1="346.20" x2="330.80" y2="350.40" stroke="#111" stroke-width="1.5750000000000002" stroke-linecap="round"/>
<line x1="328.98" y1="347.25" x2="332.62" y2="349.35" stroke="#111" stroke-width="1.5750000000000002" stroke-linecap="round"/>
<line x1="332.62" y1="347.25" x2="328.98" y2="349.35" stroke="#111" stroke-width="1.5750000000000002" stroke-linecap="round"/>
<text x="333.70" y="343.64" font-size="6.5" text-anchor="middle" fill="#222" font-weight="normal" stroke="#222" stroke-width="0.18">ns</text>
<text x="340.00" y="335.44" font-size="6.5" text-anchor="middle" fill="#222" font-weight="normal" stroke="#222" stroke-width="0.18">ns</text>
<line x1="343.10" y1="322.10" x2="343.10" y2="326.30" stroke="#111" stroke-width="1.5750000000000002" stroke-linecap="round"/>
<line x1="341.28" y1="323.15" x2="344.92" y2="325.25" stroke="#111" stroke-width="1.5750000000000002" stroke-linecap="round"/>
<line x1="344.92" y1="323.15" x2="341.28" y2="325.25" stroke="#111" stroke-width="1.5750000000000002" stroke-linecap="round"/>
<line x1="348.90" y1="322.10" x2="348.90" y2="326.30" stroke="#111" stroke-width="1.5750000000000002" stroke-linecap="round"/>
<line x1="347.08" y1="323.15" x2="350.72" y2="325.25" stroke="#111" stroke-width="1.5750000000000002" stroke-linecap="round"/>
<line x1="350.72" y1="323.15" x2="347.08" y2="325.25" stroke="#111" stroke-width="1.5750000000000002" stroke-linecap="round"/>
<text x="317.50" y="468.99" font-size="7.2" text-anchor="middle" fill="#333" font-weight="normal" stroke="#333" stroke-width="0.1">ShScr</text>
<text x="349.50" y="468.99" font-size="7.2" text-anchor="middle" fill="#333" font-weight="normal" stroke="#333" stroke-width="0.1">ShRNA.1</text>
<text x="331.50" y="479.45" font-size="6.8" text-anchor="middle" fill="#333" font-weight="normal" stroke="#333" stroke-width="0.18">U2932</text>
<line x1="400.00" y1="341.30" x2="400.00" y2="457.00" stroke="#333" stroke-width="0.8"/>
<line x1="396.00" y1="457.00" x2="400.00" y2="457.00" stroke="#333" stroke-width="0.8"/>
<text x="394.70" y="459.56" font-size="7.1" text-anchor="end" fill="#222" font-weight="normal" stroke="#222" stroke-width="0.1">0</text>
<line x1="396.00" y1="442.54" x2="400.00" y2="442.54" stroke="#333" stroke-width="0.8"/>
<text x="394.70" y="445.09" font-size="7.1" text-anchor="end" fill="#222" font-weight="normal" stroke="#222" stroke-width="0.1">10</text>
<line x1="396.00" y1="428.07" x2="400.00" y2="428.07" stroke="#333" stroke-width="0.8"/>
<text x="394.70" y="430.63" font-size="7.1" text-anchor="end" fill="#222" font-weight="normal" stroke="#222" stroke-width="0.1">20</text>
<line x1="396.00" y1="413.61" x2="400.00" y2="413.61" stroke="#333" stroke-width="0.8"/>
<text x="394.70" y="416.17" font-size="7.1" text-anchor="end" fill="#222" font-weight="normal" stroke="#222" stroke-width="0.1">30</text>
<line x1="396.00" y1="399.15" x2="400.00" y2="399.15" stroke="#333" stroke-width="0.8"/>
<text x="394.70" y="401.71" font-size="7.1" text-anchor="end" fill="#222" font-weight="normal" stroke="#222" stroke-width="0.1">40</text>
<line x1="396.00" y1="384.69" x2="400.00" y2="384.69" stroke="#333" stroke-width="0.8"/>
<text x="394.70" y="387.24" font-size="7.1" text-anchor="end" fill="#222" font-weight="normal" stroke="#222" stroke-width="0.1">50</text>
<line x1="396.00" y1="370.23" x2="400.00" y2="370.23" stroke="#333" stroke-width="0.8"/>
<text x="394.70" y="372.78" font-size="7.1" text-anchor="end" fill="#222" font-weight="normal" stroke="#222" stroke-width="0.1">60</text>
<line x1="396.00" y1="355.76" x2="400.00" y2="355.76" stroke="#333" stroke-width="0.8"/>
<text x="394.70" y="358.32" font-size="7.1" text-anchor="end" fill="#222" font-weight="normal" stroke="#222" stroke-width="0.1">70</text>
<line x1="396.00" y1="341.30" x2="400.00" y2="341.30" stroke="#333" stroke-width="0.8"/>
<text x="394.70" y="343.86" font-size="7.1" text-anchor="end" fill="#222" font-weight="normal" stroke="#222" stroke-width="0.1">80</text>
<line x1="400.00" y1="457.00" x2="465.00" y2="457.00" stroke="#333" stroke-width="0.8"/>
<text x="378.30" y="398.45" font-size="6.8" text-anchor="middle" fill="#222" font-weight="normal" stroke="#222" stroke-width="0.18" transform="rotate(-90 378.30 396.00)">Cells (%)</text>
<rect x="403.40" y="360.10" width="6.60" height="96.90" fill="#74ac5c" stroke="none" stroke-width="0.3"/>
<line x1="406.70" y1="356.10" x2="406.70" y2="364.10" stroke="#111" stroke-width="0.6"/>
<line x1="405.20" y1="356.10" x2="408.20" y2="356.10" stroke="#111" stroke-width="0.6"/>
<line x1="405.20" y1="364.10" x2="408.20" y2="364.10" stroke="#111" stroke-width="0.6"/>
<circle cx="405.40" cy="358.10" r="1.0" fill="#111" stroke="none" stroke-width="0"/>
<circle cx="406.70" cy="360.60" r="1.0" fill="#111" stroke="none" stroke-width="0"/>
<circle cx="408.00" cy="361.60" r="1.0" fill="#111" stroke="none" stroke-width="0"/>
<rect x="411.00" y="456.00" width="5.00" height="1.00" fill="#222" stroke="none" stroke-width="0"/>
<rect x="417.00" y="446.15" width="5.60" height="10.85" fill="#a98fd4" stroke="#333" stroke-width="0.3"/>
<line x1="419.80" y1="444.95" x2="419.80" y2="447.35" stroke="#111" stroke-width="0.6"/>
<line x1="418.30" y1="444.95" x2="421.30" y2="444.95" stroke="#111" stroke-width="0.6"/>
<line x1="418.30" y1="447.35" x2="421.30" y2="447.35" stroke="#111" stroke-width="0.6"/>
<circle cx="418.50" cy="445.65" r="1.0" fill="#111" stroke="none" stroke-width="0"/>
<circle cx="419.80" cy="446.65" r="1.0" fill="#111" stroke="none" stroke-width="0"/>
<circle cx="421.10" cy="446.15" r="1.0" fill="#111" stroke="none" stroke-width="0"/>
<rect x="423.60" y="420.84" width="6.40" height="36.16" fill="#5c8fc6" stroke="#333" stroke-width="0.3"/>
<line x1="426.80" y1="417.84" x2="426.80" y2="423.84" stroke="#111" stroke-width="0.6"/>
<line x1="425.30" y1="417.84" x2="428.30" y2="417.84" stroke="#111" stroke-width="0.6"/>
<line x1="425.30" y1="423.84" x2="428.30" y2="423.84" stroke="#111" stroke-width="0.6"/>
<circle cx="425.50" cy="417.84" r="1.0" fill="#111" stroke="none" stroke-width="0"/>
<circle cx="426.80" cy="420.84" r="1.0" fill="#111" stroke="none" stroke-width="0"/>
<circle cx="428.10" cy="419.34" r="1.0" fill="#111" stroke="none" stroke-width="0"/>
<rect x="436.50" y="371.67" width="6.50" height="85.33" fill="#74ac5c" stroke="none" stroke-width="0.3"/>
<line x1="439.75" y1="370.67" x2="439.75" y2="372.67" stroke="#111" stroke-width="0.6"/>
<line x1="438.25" y1="370.67" x2="441.25" y2="370.67" stroke="#111" stroke-width="0.6"/>
<line x1="438.25" y1="372.67" x2="441.25" y2="372.67" stroke="#111" stroke-width="0.6"/>
<circle cx="438.45" cy="371.17" r="1.0" fill="#111" stroke="none" stroke-width="0"/>
<circle cx="439.75" cy="371.97" r="1.0" fill="#111" stroke="none" stroke-width="0"/>
<circle cx="441.05" cy="371.67" r="1.0" fill="#111" stroke="none" stroke-width="0"/>
<rect x="444.00" y="456.00" width="5.00" height="1.00" fill="#222" stroke="none" stroke-width="0"/>
<rect x="449.50" y="448.32" width="5.90" height="8.68" fill="#a98fd4" stroke="#333" stroke-width="0.3"/>
<line x1="452.45" y1="447.32" x2="452.45" y2="449.32" stroke="#111" stroke-width="0.6"/>
<line x1="450.95" y1="447.32" x2="453.95" y2="447.32" stroke="#111" stroke-width="0.6"/>
<line x1="450.95" y1="449.32" x2="453.95" y2="449.32" stroke="#111" stroke-width="0.6"/>
<circle cx="451.15" cy="447.82" r="1.0" fill="#111" stroke="none" stroke-width="0"/>
<circle cx="452.45" cy="448.62" r="1.0" fill="#111" stroke="none" stroke-width="0"/>
<circle cx="453.75" cy="448.32" r="1.0" fill="#111" stroke="none" stroke-width="0"/>
<rect x="456.70" y="407.10" width="5.90" height="49.90" fill="#5c8fc6" stroke="#333" stroke-width="0.3"/>
<line x1="459.65" y1="406.10" x2="459.65" y2="408.10" stroke="#111" stroke-width="0.6"/>
<line x1="458.15" y1="406.10" x2="461.15" y2="406.10" stroke="#111" stroke-width="0.6"/>
<line x1="458.15" y1="408.10" x2="461.15" y2="408.10" stroke="#111" stroke-width="0.6"/>
<circle cx="458.35" cy="406.10" r="1.0" fill="#111" stroke="none" stroke-width="0"/>
<circle cx="459.65" cy="407.60" r="1.0" fill="#111" stroke="none" stroke-width="0"/>
<circle cx="460.95" cy="407.10" r="1.0" fill="#111" stroke="none" stroke-width="0"/>
<polyline points="406.00,353.00 406.00,346.70 439.00,346.70 439.00,368.00" stroke="#555" stroke-width="0.6" fill="none"/>
<polyline points="412.00,344.50 412.00,339.00 446.00,339.00 446.00,455.00" stroke="#888" stroke-width="0.6" fill="none"/>
<polyline points="420.00,336.50 420.00,331.00 452.70,331.00 452.70,444.00" stroke="#888" stroke-width="0.6" fill="none"/>
<polyline points="426.00,328.00 426.00,322.50 459.40,322.50 459.40,405.00" stroke="#555" stroke-width="0.6" fill="none"/>
<line x1="414.30" y1="341.30" x2="414.30" y2="345.50" stroke="#111" stroke-width="1.5750000000000002" stroke-linecap="round"/>
<line x1="412.48" y1="342.35" x2="416.12" y2="344.45" stroke="#111" stroke-width="1.5750000000000002" stroke-linecap="round"/>
<line x1="416.12" y1="342.35" x2="412.48" y2="344.45" stroke="#111" stroke-width="1.5750000000000002" stroke-linecap="round"/>
<line x1="420.10" y1="341.30" x2="420.10" y2="345.50" stroke="#111" stroke-width="1.5750000000000002" stroke-linecap="round"/>
<line x1="418.28" y1="342.35" x2="421.92" y2="344.45" stroke="#111" stroke-width="1.5750000000000002" stroke-linecap="round"/>
<line x1="421.92" y1="342.35" x2="418.28" y2="344.45" stroke="#111" stroke-width="1.5750000000000002" stroke-linecap="round"/>
<line x1="425.90" y1="341.30" x2="425.90" y2="345.50" stroke="#111" stroke-width="1.5750000000000002" stroke-linecap="round"/>
<line x1="424.08" y1="342.35" x2="427.72" y2="344.45" stroke="#111" stroke-width="1.5750000000000002" stroke-linecap="round"/>
<line x1="427.72" y1="342.35" x2="424.08" y2="344.45" stroke="#111" stroke-width="1.5750000000000002" stroke-linecap="round"/>
<line x1="431.70" y1="341.30" x2="431.70" y2="345.50" stroke="#111" stroke-width="1.5750000000000002" stroke-linecap="round"/>
<line x1="429.88" y1="342.35" x2="433.52" y2="344.45" stroke="#111" stroke-width="1.5750000000000002" stroke-linecap="round"/>
<line x1="433.52" y1="342.35" x2="429.88" y2="344.45" stroke="#111" stroke-width="1.5750000000000002" stroke-linecap="round"/>
<text x="433.00" y="337.74" font-size="6.5" text-anchor="middle" fill="#222" font-weight="normal" stroke="#222" stroke-width="0.18">ns</text>
<text x="440.00" y="330.14" font-size="6.5" text-anchor="middle" fill="#222" font-weight="normal" stroke="#222" stroke-width="0.18">ns</text>
<line x1="434.60" y1="317.10" x2="434.60" y2="321.30" stroke="#111" stroke-width="1.5750000000000002" stroke-linecap="round"/>
<line x1="432.78" y1="318.15" x2="436.42" y2="320.25" stroke="#111" stroke-width="1.5750000000000002" stroke-linecap="round"/>
<line x1="436.42" y1="318.15" x2="432.78" y2="320.25" stroke="#111" stroke-width="1.5750000000000002" stroke-linecap="round"/>
<line x1="440.40" y1="317.10" x2="440.40" y2="321.30" stroke="#111" stroke-width="1.5750000000000002" stroke-linecap="round"/>
<line x1="438.58" y1="318.15" x2="442.22" y2="320.25" stroke="#111" stroke-width="1.5750000000000002" stroke-linecap="round"/>
<line x1="442.22" y1="318.15" x2="438.58" y2="320.25" stroke="#111" stroke-width="1.5750000000000002" stroke-linecap="round"/>
<line x1="446.20" y1="317.10" x2="446.20" y2="321.30" stroke="#111" stroke-width="1.5750000000000002" stroke-linecap="round"/>
<line x1="444.38" y1="318.15" x2="448.02" y2="320.25" stroke="#111" stroke-width="1.5750000000000002" stroke-linecap="round"/>
<line x1="448.02" y1="318.15" x2="444.38" y2="320.25" stroke="#111" stroke-width="1.5750000000000002" stroke-linecap="round"/>
<line x1="452.00" y1="317.10" x2="452.00" y2="321.30" stroke="#111" stroke-width="1.5750000000000002" stroke-linecap="round"/>
<line x1="450.18" y1="318.15" x2="453.82" y2="320.25" stroke="#111" stroke-width="1.5750000000000002" stroke-linecap="round"/>
<line x1="453.82" y1="318.15" x2="450.18" y2="320.25" stroke="#111" stroke-width="1.5750000000000002" stroke-linecap="round"/>
<text x="414.50" y="468.79" font-size="7.2" text-anchor="middle" fill="#333" font-weight="normal" stroke="#333" stroke-width="0.1">ShScr</text>
<text x="446.00" y="468.79" font-size="7.2" text-anchor="middle" fill="#333" font-weight="normal" stroke="#333" stroke-width="0.1">ShRNA.1</text>
<text x="432.00" y="479.45" font-size="6.8" text-anchor="middle" fill="#333" font-weight="normal" stroke="#333" stroke-width="0.18">SUDHL4</text>
<rect x="471.50" y="330.20" width="5.60" height="5.60" fill="#74ac5c" stroke="#555" stroke-width="0.3"/>
<text x="479.60" y="335.38" font-size="6.6" text-anchor="start" fill="#333" font-weight="normal" stroke="#333" stroke-width="0.18">Viable</text>
<rect x="471.50" y="338.10" width="5.60" height="5.60" fill="#5c8fc6" stroke="#555" stroke-width="0.3"/>
<text x="479.60" y="343.28" font-size="6.6" text-anchor="start" fill="#333" font-weight="normal" stroke="#333" stroke-width="0.18">Necrotic</text>
<rect x="471.50" y="346.00" width="5.60" height="5.60" fill="#a98fd4" stroke="#555" stroke-width="0.3"/>
<text x="479.60" y="351.18" font-size="6.6" text-anchor="start" fill="#333" font-weight="normal" stroke="#333" stroke-width="0.18">Nec./Apopt.</text>
<rect x="471.50" y="353.90" width="5.60" height="5.60" fill="#ddd3ec" stroke="#555" stroke-width="0.3"/>
<text x="479.60" y="359.08" font-size="6.6" text-anchor="start" fill="#333" font-weight="normal" stroke="#333" stroke-width="0.18">Apoptotic</text>
</g>
<g font-family='"Liberation Sans", sans-serif'>
<text x="3.10" y="492.30" font-size="13.6" text-anchor="start" fill="#111" font-weight="bold">G</text>
<text x="78.00" y="500.38" font-size="8.0" text-anchor="middle" fill="#222" font-weight="normal" stroke="#222" stroke-width="0.1">Ecto-CALR</text>
<defs><clipPath id="gcu"><rect x="33.75" y="503.75" width="88.75" height="38.75"/></clipPath><clipPath id="gcl"><rect x="33.75" y="545.5" width="88.75" height="37"/></clipPath></defs>
<g clip-path="url(#gcu)">
<path d="M34.00,541.55 L34.73,541.55 L35.47,541.54 L36.20,541.54 L36.93,541.53 L37.67,541.52 L38.40,541.51 L39.13,541.50 L39.87,541.49 L40.60,541.48 L41.33,541.47 L42.07,541.45 L42.80,541.43 L43.53,541.41 L44.27,541.39 L45.00,541.37 L45.73,541.34 L46.47,541.32 L47.20,541.28 L47.93,541.25 L48.67,541.21 L49.40,541.17 L50.13,541.12 L50.87,541.07 L51.60,541.01 L52.33,540.95 L53.07,540.87 L53.80,540.80 L54.53,540.71 L55.27,540.61 L56.00,540.51 L56.73,540.39 L57.47,540.26 L58.20,540.12 L58.93,539.96 L59.67,539.78 L60.40,539.59 L61.13,539.38 L61.87,539.15 L62.60,538.89 L63.33,538.61 L64.07,538.30 L64.80,537.96 L65.53,537.59 L66.27,537.18 L67.00,536.73 L67.73,536.24 L68.47,535.70 L69.20,535.11 L69.93,534.47 L70.67,533.77 L71.40,533.00 L72.13,532.17 L72.87,531.27 L73.60,530.28 L74.33,529.22 L75.07,528.07 L75.80,526.83 L76.53,525.49 L77.27,524.07 L78.00,522.54 L78.73,520.93 L79.47,519.23 L80.20,517.47 L80.93,515.67 L81.67,513.89 L82.40,512.20 L83.13,510.73 L83.87,509.67 L84.60,509.22 L85.33,509.21 L86.07,509.37 L86.80,509.90 L87.53,510.94 L88.27,512.48 L89.00,514.44 L89.73,516.72 L90.47,519.21 L91.20,521.79 L91.93,524.36 L92.67,526.83 L93.40,529.15 L94.13,531.26 L94.87,533.13 L95.60,534.77 L96.33,536.17 L97.07,537.34 L97.80,538.30 L98.53,539.08 L99.27,539.70 L100.00,540.19 L100.73,540.56 L101.47,540.85 L102.20,541.06 L102.93,541.22 L103.67,541.33 L104.40,541.42 L105.13,541.47 L105.87,541.52 L106.60,541.54 L107.33,541.56 L108.07,541.58 L108.80,541.58 L109.53,541.59 L110.27,541.59 L111.00,541.60 L111.73,541.60 L112.47,541.60 L113.20,541.60 L113.93,541.60 L114.67,541.60 L115.40,541.60 L116.13,541.60 L116.87,541.60 L117.60,541.60 L118.33,541.60 L119.07,541.60 L119.80,541.60 L120.53,541.60 L121.27,541.60 L122.00,541.60 L122.00,541.60 L34.00,541.60Z" fill="#c2e5f4" stroke="#2f7fbf" stroke-width="0.9"/>
<path d="M34.00,541.57 L34.73,541.56 L35.47,541.56 L36.20,541.55 L36.93,541.54 L37.67,541.53 L38.40,541.52 L39.13,541.50 L39.87,541.49 L40.60,541.47 L41.33,541.44 L42.07,541.42 L42.80,541.38 L43.53,541.35 L44.27,541.31 L45.00,541.26 L45.73,541.20 L46.47,541.14 L47.20,541.07 L47.93,540.98 L48.67,540.89 L49.40,540.78 L50.13,540.65 L50.87,540.51 L51.60,540.35 L52.33,540.17 L53.07,539.96 L53.80,539.73 L54.53,539.47 L55.27,539.17 L56.00,538.84 L56.73,538.47 L57.47,538.06 L58.20,537.60 L58.93,537.09 L59.67,536.53 L60.40,535.91 L61.13,535.22 L61.87,534.47 L62.60,533.65 L63.33,532.75 L64.07,531.78 L64.80,530.73 L65.53,529.60 L66.27,528.39 L67.00,527.10 L67.73,525.72 L68.47,524.28 L69.20,522.76 L69.93,521.19 L70.67,519.57 L71.40,517.92 L72.13,516.26 L72.87,514.62 L73.60,513.02 L74.33,511.52 L75.07,510.16 L75.80,509.01 L76.53,508.14 L77.27,507.61 L78.00,507.41 L78.73,507.41 L79.47,507.71 L80.20,508.59 L80.93,510.04 L81.67,511.94 L82.40,514.12 L83.13,516.47 L83.87,518.87 L84.60,521.24 L85.33,523.52 L86.07,525.67 L86.80,527.67 L87.53,529.50 L88.27,531.16 L89.00,532.64 L89.73,533.96 L90.47,535.12 L91.20,536.13 L91.93,537.00 L92.67,537.75 L93.40,538.40 L94.13,538.95 L94.87,539.41 L95.60,539.80 L96.33,540.13 L97.07,540.40 L97.80,540.62 L98.53,540.81 L99.27,540.96 L100.00,541.09 L100.73,541.19 L101.47,541.27 L102.20,541.34 L102.93,541.39 L103.67,541.44 L104.40,541.47 L105.13,541.50 L105.87,541.52 L106.60,541.54 L107.33,541.55 L108.07,541.56 L108.80,541.57 L109.53,541.58 L110.27,541.58 L111.00,541.59 L111.73,541.59 L112.47,541.59 L113.20,541.59 L113.93,541.60 L114.67,541.60 L115.40,541.60 L116.13,541.60 L116.87,541.60 L117.60,541.60 L118.33,541.60 L119.07,541.60 L119.80,541.60 L120.53,541.60 L121.27,541.60 L122.00,541.60" fill="none" stroke="#d4737d" stroke-width="0.7"/>
<line x1="34.60" y1="526.00" x2="34.60" y2="542.00" stroke="#2e8fd8" stroke-width="1.3"/>
</g>
<rect x="33.75" y="503.75" width="88.75" height="38.75" fill="none" stroke="#333" stroke-width="0.8"/>
<g clip-path="url(#gcl)">
<path d="M34.00,581.48 L34.73,581.44 L35.47,581.41 L36.20,581.36 L36.93,581.32 L37.67,581.27 L38.40,581.21 L39.13,581.15 L39.87,581.09 L40.60,581.01 L41.33,580.93 L42.07,580.85 L42.80,580.75 L43.53,580.65 L44.27,580.54 L45.00,580.42 L45.73,580.28 L46.47,580.14 L47.20,579.99 L47.93,579.82 L48.67,579.63 L49.40,579.44 L50.13,579.22 L50.87,578.99 L51.60,578.75 L52.33,578.48 L53.07,578.19 L53.80,577.88 L54.53,577.55 L55.27,577.20 L56.00,576.82 L56.73,576.41 L57.47,575.98 L58.20,575.52 L58.93,575.03 L59.67,574.51 L60.40,573.96 L61.13,573.38 L61.87,572.76 L62.60,572.11 L63.33,571.43 L64.07,570.71 L64.80,569.96 L65.53,569.17 L66.27,568.35 L67.00,567.50 L67.73,566.61 L68.47,565.70 L69.20,564.76 L69.93,563.79 L70.67,562.80 L71.40,561.80 L72.13,560.78 L72.87,559.76 L73.60,558.74 L74.33,557.74 L75.07,556.75 L75.80,555.81 L76.53,554.91 L77.27,554.09 L78.00,553.37 L78.73,552.77 L79.47,552.33 L80.20,552.08 L80.93,552.00 L81.67,552.01 L82.40,552.22 L83.13,552.82 L83.87,553.89 L84.60,555.37 L85.33,557.15 L86.07,559.14 L86.80,561.25 L87.53,563.38 L88.27,565.48 L89.00,567.49 L89.73,569.39 L90.47,571.13 L91.20,572.71 L91.93,574.13 L92.67,575.38 L93.40,576.47 L94.13,577.41 L94.87,578.21 L95.60,578.89 L96.33,579.45 L97.07,579.92 L97.80,580.31 L98.53,580.62 L99.27,580.88 L100.00,581.08 L100.73,581.24 L101.47,581.37 L102.20,581.47 L102.93,581.55 L103.67,581.61 L104.40,581.66 L105.13,581.69 L105.87,581.72 L106.60,581.74 L107.33,581.76 L108.07,581.77 L108.80,581.78 L109.53,581.78 L110.27,581.79 L111.00,581.79 L111.73,581.79 L112.47,581.80 L113.20,581.80 L113.93,581.80 L114.67,581.80 L115.40,581.80 L116.13,581.80 L116.87,581.80 L117.60,581.80 L118.33,581.80 L119.07,581.80 L119.80,581.80 L120.53,581.80 L121.27,581.80 L122.00,581.80" fill="none" stroke="#2f6fb0" stroke-width="0.9"/>
<path d="M34.00,581.39 L34.73,581.35 L35.47,581.31 L36.20,581.27 L36.93,581.23 L37.67,581.18 L38.40,581.13 L39.13,581.07 L39.87,581.01 L40.60,580.95 L41.33,580.88 L42.07,580.80 L42.80,580.72 L43.53,580.63 L44.27,580.54 L45.00,580.43 L45.73,580.32 L46.47,580.21 L47.20,580.08 L47.93,579.94 L48.67,579.79 L49.40,579.64 L50.13,579.47 L50.87,579.28 L51.60,579.09 L52.33,578.88 L53.07,578.65 L53.80,578.41 L54.53,578.15 L55.27,577.87 L56.00,577.58 L56.73,577.26 L57.47,576.92 L58.20,576.56 L58.93,576.17 L59.67,575.76 L60.40,575.32 L61.13,574.85 L61.87,574.36 L62.60,573.83 L63.33,573.26 L64.07,572.66 L64.80,572.03 L65.53,571.36 L66.27,570.65 L67.00,569.89 L67.73,569.10 L68.47,568.26 L69.20,567.37 L69.93,566.44 L70.67,565.47 L71.40,564.44 L72.13,563.37 L72.87,562.26 L73.60,561.10 L74.33,559.90 L75.07,558.66 L75.80,557.38 L76.53,556.08 L77.27,554.77 L78.00,553.45 L78.73,552.15 L79.47,550.90 L80.20,549.75 L80.93,548.75 L81.67,548.00 L82.40,547.58 L83.13,547.50 L83.87,547.61 L84.60,548.13 L85.33,549.18 L86.07,550.71 L86.80,552.60 L87.53,554.75 L88.27,557.05 L89.00,559.40 L89.73,561.73 L90.47,563.99 L91.20,566.13 L91.93,568.13 L92.67,569.97 L93.40,571.63 L94.13,573.12 L94.87,574.45 L95.60,575.61 L96.33,576.62 L97.07,577.49 L97.80,578.24 L98.53,578.87 L99.27,579.41 L100.00,579.85 L100.73,580.23 L101.47,580.53 L102.20,580.79 L102.93,580.99 L103.67,581.16 L104.40,581.29 L105.13,581.40 L105.87,581.49 L106.60,581.56 L107.33,581.61 L108.07,581.66 L108.80,581.69 L109.53,581.71 L110.27,581.73 L111.00,581.75 L111.73,581.76 L112.47,581.77 L113.20,581.78 L113.93,581.78 L114.67,581.79 L115.40,581.79 L116.13,581.79 L116.87,581.80 L117.60,581.80 L118.33,581.80 L119.07,581.80 L119.80,581.80 L120.53,581.80 L121.27,581.80 L122.00,581.80" fill="none" stroke="#d4737d" stroke-width="0.7"/>
</g>
<rect x="33.75" y="545.50" width="88.75" height="37.00" fill="none" stroke="#333" stroke-width="0.8"/>
<line x1="30.25" y1="508.75" x2="33.75" y2="508.75" stroke="#222" stroke-width="0.9"/>
<text x="29.15" y="511.23" font-size="6.9" text-anchor="end" fill="#222" font-weight="normal" stroke="#222" stroke-width="0.18">1.2k</text>
<line x1="30.25" y1="525.50" x2="33.75" y2="525.50" stroke="#222" stroke-width="0.9"/>
<text x="29.15" y="527.98" font-size="6.9" text-anchor="end" fill="#222" font-weight="normal" stroke="#222" stroke-width="0.18">600</text>
<line x1="30.25" y1="540.00" x2="33.75" y2="540.00" stroke="#222" stroke-width="0.9"/>
<text x="29.15" y="542.48" font-size="6.9" text-anchor="end" fill="#222" font-weight="normal" stroke="#222" stroke-width="0.18">0</text>
<line x1="30.25" y1="550.75" x2="33.75" y2="550.75" stroke="#222" stroke-width="0.9"/>
<text x="29.15" y="553.23" font-size="6.9" text-anchor="end" fill="#222" font-weight="normal" stroke="#222" stroke-width="0.18">1.2k</text>
<line x1="30.25" y1="566.00" x2="33.75" y2="566.00" stroke="#222" stroke-width="0.9"/>
<text x="29.15" y="568.48" font-size="6.9" text-anchor="end" fill="#222" font-weight="normal" stroke="#222" stroke-width="0.18">600</text>
<line x1="30.25" y1="579.50" x2="33.75" y2="579.50" stroke="#222" stroke-width="0.9"/>
<text x="29.15" y="581.98" font-size="6.9" text-anchor="end" fill="#222" font-weight="normal" stroke="#222" stroke-width="0.18">0</text>
<line x1="31.55" y1="512.50" x2="33.75" y2="512.50" stroke="#333" stroke-width="0.7"/>
<line x1="31.55" y1="554.50" x2="33.75" y2="554.50" stroke="#333" stroke-width="0.7"/>
<line x1="31.55" y1="516.60" x2="33.75" y2="516.60" stroke="#333" stroke-width="0.7"/>
<line x1="31.55" y1="558.00" x2="33.75" y2="558.00" stroke="#333" stroke-width="0.7"/>
<line x1="31.55" y1="520.70" x2="33.75" y2="520.70" stroke="#333" stroke-width="0.7"/>
<line x1="31.55" y1="561.50" x2="33.75" y2="561.50" stroke="#333" stroke-width="0.7"/>
<line x1="31.55" y1="524.80" x2="33.75" y2="524.80" stroke="#333" stroke-width="0.7"/>
<line x1="31.55" y1="565.00" x2="33.75" y2="565.00" stroke="#333" stroke-width="0.7"/>
<line x1="31.55" y1="528.90" x2="33.75" y2="528.90" stroke="#333" stroke-width="0.7"/>
<line x1="31.55" y1="568.50" x2="33.75" y2="568.50" stroke="#333" stroke-width="0.7"/>
<line x1="31.55" y1="533.00" x2="33.75" y2="533.00" stroke="#333" stroke-width="0.7"/>
<line x1="31.55" y1="572.00" x2="33.75" y2="572.00" stroke="#333" stroke-width="0.7"/>
<line x1="31.55" y1="537.10" x2="33.75" y2="537.10" stroke="#333" stroke-width="0.7"/>
<line x1="31.55" y1="575.50" x2="33.75" y2="575.50" stroke="#333" stroke-width="0.7"/>
<line x1="31.55" y1="541.20" x2="33.75" y2="541.20" stroke="#333" stroke-width="0.7"/>
<line x1="31.55" y1="579.00" x2="33.75" y2="579.00" stroke="#333" stroke-width="0.7"/>
<text x="11.25" y="546.34" font-size="7.2" text-anchor="middle" fill="#222" font-weight="normal" stroke="#222" stroke-width="0.1" transform="rotate(-90 11.25 543.75)">Count</text>
<text x="37.20" y="553.77" font-size="7.0" text-anchor="start" fill="#222" font-weight="normal" stroke="#222" stroke-width="0.1">Isotype Ctrl</text>
<line x1="52.50" y1="582.50" x2="52.50" y2="585.00" stroke="#333" stroke-width="0.7"/>
<line x1="79.50" y1="582.50" x2="79.50" y2="585.00" stroke="#333" stroke-width="0.7"/>
<line x1="106.25" y1="582.50" x2="106.25" y2="585.00" stroke="#333" stroke-width="0.7"/>
<line x1="38.43" y1="582.50" x2="38.43" y2="583.80" stroke="#333" stroke-width="0.5"/>
<line x1="41.80" y1="582.50" x2="41.80" y2="583.80" stroke="#333" stroke-width="0.5"/>
<line x1="44.40" y1="582.50" x2="44.40" y2="583.80" stroke="#333" stroke-width="0.5"/>
<line x1="46.53" y1="582.50" x2="46.53" y2="583.80" stroke="#333" stroke-width="0.5"/>
<line x1="48.33" y1="582.50" x2="48.33" y2="583.80" stroke="#333" stroke-width="0.5"/>
<line x1="49.89" y1="582.50" x2="49.89" y2="583.80" stroke="#333" stroke-width="0.5"/>
<line x1="51.27" y1="582.50" x2="51.27" y2="583.80" stroke="#333" stroke-width="0.5"/>
<line x1="60.60" y1="582.50" x2="60.60" y2="583.80" stroke="#333" stroke-width="0.5"/>
<line x1="65.33" y1="582.50" x2="65.33" y2="583.80" stroke="#333" stroke-width="0.5"/>
<line x1="68.70" y1="582.50" x2="68.70" y2="583.80" stroke="#333" stroke-width="0.5"/>
<line x1="71.30" y1="582.50" x2="71.30" y2="583.80" stroke="#333" stroke-width="0.5"/>
<line x1="73.43" y1="582.50" x2="73.43" y2="583.80" stroke="#333" stroke-width="0.5"/>
<line x1="75.23" y1="582.50" x2="75.23" y2="583.80" stroke="#333" stroke-width="0.5"/>
<line x1="76.79" y1="582.50" x2="76.79" y2="583.80" stroke="#333" stroke-width="0.5"/>
<line x1="78.17" y1="582.50" x2="78.17" y2="583.80" stroke="#333" stroke-width="0.5"/>
<line x1="87.50" y1="582.50" x2="87.50" y2="583.80" stroke="#333" stroke-width="0.5"/>
<line x1="92.23" y1="582.50" x2="92.23" y2="583.80" stroke="#333" stroke-width="0.5"/>
<line x1="95.60" y1="582.50" x2="95.60" y2="583.80" stroke="#333" stroke-width="0.5"/>
<line x1="98.20" y1="582.50" x2="98.20" y2="583.80" stroke="#333" stroke-width="0.5"/>
<line x1="100.33" y1="582.50" x2="100.33" y2="583.80" stroke="#333" stroke-width="0.5"/>
<line x1="102.13" y1="582.50" x2="102.13" y2="583.80" stroke="#333" stroke-width="0.5"/>
<line x1="103.69" y1="582.50" x2="103.69" y2="583.80" stroke="#333" stroke-width="0.5"/>
<line x1="105.07" y1="582.50" x2="105.07" y2="583.80" stroke="#333" stroke-width="0.5"/>
<line x1="114.40" y1="582.50" x2="114.40" y2="583.80" stroke="#333" stroke-width="0.5"/>
<line x1="119.13" y1="582.50" x2="119.13" y2="583.80" stroke="#333" stroke-width="0.5"/>
<line x1="122.50" y1="582.50" x2="122.50" y2="583.80" stroke="#333" stroke-width="0.5"/>
<text x="52.50" y="594.30" font-size="5.8" text-anchor="middle" fill="#222" stroke="#222" stroke-width="0.12">10<tspan font-size="4.1" dy="-2.6">1</tspan></text>
<text x="79.50" y="594.30" font-size="5.8" text-anchor="middle" fill="#222" stroke="#222" stroke-width="0.12">10<tspan font-size="4.1" dy="-2.6">2</tspan></text>
<text x="106.25" y="594.30" font-size="5.8" text-anchor="middle" fill="#222" stroke="#222" stroke-width="0.12">10<tspan font-size="4.1" dy="-2.6">3</tspan></text>
<rect x="47.50" y="600.50" width="58.75" height="27.00" fill="#fff" stroke="#9a9a9a" stroke-width="0.7"/>
<rect x="47.50" y="600.50" width="58.75" height="9.50" fill="#e6e6e6" stroke="#9a9a9a" stroke-width="0.7"/>
<line x1="47.50" y1="618.75" x2="106.25" y2="618.75" stroke="#9a9a9a" stroke-width="0.7"/>
<line x1="58.00" y1="600.50" x2="58.00" y2="627.50" stroke="#9a9a9a" stroke-width="0.7"/>
<text x="81.50" y="607.98" font-size="6.9" text-anchor="middle" fill="#222" font-weight="normal" stroke="#222" stroke-width="0.18">Sample name</text>
<text x="82.50" y="616.88" font-size="6.9" text-anchor="middle" fill="#222" font-weight="normal" stroke="#222" stroke-width="0.18">ShRNA.1</text>
<text x="82.50" y="625.68" font-size="6.9" text-anchor="middle" fill="#222" font-weight="normal" stroke="#222" stroke-width="0.18">ShScramble</text>
<rect x="49.90" y="611.60" width="5.40" height="5.40" fill="#4cc3ee" stroke="#2e6fa8" stroke-width="0.6"/>
<rect x="49.90" y="620.40" width="5.40" height="5.40" fill="#fff" stroke="#c9545f" stroke-width="0.6"/>
<line x1="164.90" y1="492.30" x2="164.90" y2="618.30" stroke="#333" stroke-width="0.9"/>
<line x1="161.40" y1="492.30" x2="164.90" y2="492.30" stroke="#333" stroke-width="0.9"/>
<text x="160.60" y="494.93" font-size="7.3" text-anchor="end" fill="#222" font-weight="normal" stroke="#222" stroke-width="0.1">800</text>
<line x1="161.40" y1="513.30" x2="164.90" y2="513.30" stroke="#333" stroke-width="0.9"/>
<text x="160.60" y="515.93" font-size="7.3" text-anchor="end" fill="#222" font-weight="normal" stroke="#222" stroke-width="0.1">600</text>
<line x1="161.40" y1="534.30" x2="164.90" y2="534.30" stroke="#333" stroke-width="0.9"/>
<text x="160.60" y="536.93" font-size="7.3" text-anchor="end" fill="#222" font-weight="normal" stroke="#222" stroke-width="0.1">400</text>
<line x1="161.40" y1="555.30" x2="164.90" y2="555.30" stroke="#333" stroke-width="0.9"/>
<text x="160.60" y="557.93" font-size="7.3" text-anchor="end" fill="#222" font-weight="normal" stroke="#222" stroke-width="0.1">200</text>
<line x1="161.40" y1="576.30" x2="164.90" y2="576.30" stroke="#333" stroke-width="0.9"/>
<text x="160.60" y="578.93" font-size="7.3" text-anchor="end" fill="#222" font-weight="normal" stroke="#222" stroke-width="0.1">0</text>
<line x1="161.40" y1="597.30" x2="164.90" y2="597.30" stroke="#333" stroke-width="0.9"/>
<text x="160.60" y="599.93" font-size="7.3" text-anchor="end" fill="#222" font-weight="normal" stroke="#222" stroke-width="0.1">-200</text>
<line x1="161.40" y1="618.30" x2="164.90" y2="618.30" stroke="#333" stroke-width="0.9"/>
<text x="160.60" y="620.93" font-size="7.3" text-anchor="end" fill="#222" font-weight="normal" stroke="#222" stroke-width="0.1">-400</text>
<line x1="164.90" y1="618.30" x2="224.00" y2="618.30" stroke="#333" stroke-width="0.9"/>
<line x1="186.00" y1="618.30" x2="186.00" y2="621.30" stroke="#333" stroke-width="0.9"/>
<line x1="212.20" y1="618.30" x2="212.20" y2="621.30" stroke="#333" stroke-width="0.9"/>
<line x1="164.90" y1="576.30" x2="226.50" y2="576.30" stroke="#cccccc" stroke-width="0.7" stroke-dasharray="2,1.5"/>
<text x="138.20" y="554.49" font-size="8.3" text-anchor="middle" fill="#222" font-weight="normal" stroke="#222" stroke-width="0.1" transform="rotate(-90 138.20 551.50)">Cell-surface CRT (MFI)</text>
<text x="187.50" y="630.02" font-size="7.0" text-anchor="end" fill="#222" font-weight="normal" stroke="#222" stroke-width="0.1" transform="rotate(-45 187.50 627.50)">ShScr</text>
<text x="213.50" y="630.02" font-size="7.0" text-anchor="end" fill="#222" font-weight="normal" stroke="#222" stroke-width="0.1" transform="rotate(-45 213.50 627.50)">ShRNA.1</text>
<path d="M186.35,539.55 L186.35,540.19 L186.35,540.84 L186.40,541.48 L186.50,542.12 L186.62,542.77 L186.75,543.41 L186.91,544.05 L187.10,544.69 L187.30,545.34 L187.54,545.98 L187.80,546.62 L188.09,547.27 L188.41,547.91 L188.76,548.55 L189.13,549.20 L189.52,549.84 L189.94,550.48 L190.37,551.13 L190.81,551.77 L191.26,552.41 L191.71,553.06 L192.17,553.70 L192.62,554.34 L193.05,554.98 L193.47,555.63 L193.87,556.27 L194.24,556.91 L194.59,557.56 L194.90,558.20 L195.18,558.84 L195.43,559.49 L195.64,560.13 L195.81,560.77 L195.95,561.42 L196.05,562.06 L196.12,562.70 L196.17,563.35 L196.19,563.99 L196.20,564.63 L196.15,565.27 L196.01,565.92 L195.78,566.56 L195.48,567.20 L195.13,567.85 L194.73,568.49 L194.29,569.13 L193.82,569.78 L193.33,570.42 L192.83,571.06 L192.33,571.71 L191.83,572.35 L191.34,572.99 L190.86,573.64 L190.40,574.28 L189.96,574.92 L189.55,575.56 L189.16,576.21 L188.80,576.85 L188.47,577.49 L188.16,578.14 L187.89,578.78 L187.64,579.42 L187.42,580.07 L187.22,580.71 L187.04,581.35 L186.88,582.00 L186.75,582.64 L186.63,583.28 L186.53,583.93 L186.44,584.57 L186.37,585.21 L186.35,585.85 L186.35,586.50 L186.35,587.14 L186.35,587.78 L186.35,588.43 L186.35,589.07 L186.35,589.71 L186.35,590.36 L186.35,591.00 L185.65,591.00 L185.65,590.36 L185.65,589.71 L185.65,589.07 L185.65,588.43 L185.65,587.78 L185.65,587.14 L185.65,586.50 L185.65,585.85 L185.63,585.21 L185.56,584.57 L185.47,583.93 L185.37,583.28 L185.25,582.64 L185.12,582.00 L184.96,581.35 L184.78,580.71 L184.58,580.07 L184.36,579.42 L184.11,578.78 L183.84,578.14 L183.53,577.49 L183.20,576.85 L182.84,576.21 L182.45,575.56 L182.04,574.92 L181.60,574.28 L181.14,573.64 L180.66,572.99 L180.17,572.35 L179.67,571.71 L179.17,571.06 L178.67,570.42 L178.18,569.78 L177.71,569.13 L177.27,568.49 L176.87,567.85 L176.52,567.20 L176.22,566.56 L175.99,565.92 L175.85,565.27 L175.80,564.63 L175.81,563.99 L175.83,563.35 L175.88,562.70 L175.95,562.06 L176.05,561.42 L176.19,560.77 L176.36,560.13 L176.57,559.49 L176.82,558.84 L177.10,558.20 L177.41,557.56 L177.76,556.91 L178.13,556.27 L178.53,555.63 L178.95,554.98 L179.38,554.34 L179.83,553.70 L180.29,553.06 L180.74,552.41 L181.19,551.77 L181.63,551.13 L182.06,550.48 L182.48,549.84 L182.87,549.20 L183.24,548.55 L183.59,547.91 L183.91,547.27 L184.20,546.62 L184.46,545.98 L184.70,545.34 L184.90,544.69 L185.09,544.05 L185.25,543.41 L185.38,542.77 L185.50,542.12 L185.60,541.48 L185.65,540.84 L185.65,540.19 L185.65,539.55Z" fill="#8c1a4b" stroke="#8c1a4b" stroke-width="0.4" stroke-linejoin="round"/>
<path d="M212.55,513.30 L212.55,514.38 L212.55,515.45 L212.55,516.53 L212.55,517.60 L212.55,518.68 L212.55,519.76 L212.55,520.83 L212.55,521.91 L212.55,522.99 L212.55,524.06 L212.55,525.14 L212.55,526.21 L212.55,527.29 L212.55,528.37 L212.55,529.44 L212.57,530.52 L212.69,531.60 L212.84,532.67 L213.03,533.75 L213.26,534.82 L213.53,535.90 L213.85,536.98 L214.22,538.05 L214.64,539.13 L215.11,540.21 L215.64,541.28 L216.20,542.36 L216.81,543.43 L217.44,544.51 L218.09,545.59 L218.74,546.66 L219.39,547.74 L220.01,548.82 L220.59,549.89 L221.11,550.97 L221.58,552.04 L221.96,553.12 L222.27,554.20 L222.50,555.27 L222.63,556.35 L222.69,557.43 L222.67,558.50 L222.46,559.58 L222.10,560.65 L221.60,561.73 L220.98,562.81 L220.29,563.88 L219.55,564.96 L218.78,566.04 L218.00,567.11 L217.25,568.19 L216.54,569.26 L215.87,570.34 L215.27,571.42 L214.73,572.49 L214.26,573.57 L213.85,574.65 L213.51,575.72 L213.22,576.80 L212.99,577.88 L212.80,578.95 L212.65,580.03 L212.55,581.10 L212.55,582.18 L212.55,583.26 L212.55,584.33 L212.55,585.41 L212.55,586.48 L212.55,587.56 L212.55,588.64 L212.55,589.71 L212.55,590.79 L212.55,591.87 L212.55,592.94 L212.55,594.02 L212.55,595.09 L212.55,596.17 L212.55,597.25 L212.55,598.32 L212.55,599.40 L211.85,599.40 L211.85,598.32 L211.85,597.25 L211.85,596.17 L211.85,595.09 L211.85,594.02 L211.85,592.94 L211.85,591.87 L211.85,590.79 L211.85,589.71 L211.85,588.64 L211.85,587.56 L211.85,586.48 L211.85,585.41 L211.85,584.33 L211.85,583.26 L211.85,582.18 L211.85,581.10 L211.75,580.03 L211.60,578.95 L211.41,577.88 L211.18,576.80 L210.89,575.72 L210.55,574.65 L210.14,573.57 L209.67,572.49 L209.13,571.42 L208.53,570.34 L207.86,569.26 L207.15,568.19 L206.40,567.11 L205.62,566.04 L204.85,564.96 L204.11,563.88 L203.42,562.81 L202.80,561.73 L202.30,560.65 L201.94,559.58 L201.73,558.50 L201.71,557.43 L201.77,556.35 L201.90,555.27 L202.13,554.20 L202.44,553.12 L202.82,552.04 L203.29,550.97 L203.81,549.89 L204.39,548.82 L205.01,547.74 L205.66,546.66 L206.31,545.59 L206.96,544.51 L207.59,543.43 L208.20,542.36 L208.76,541.28 L209.29,540.21 L209.76,539.13 L210.18,538.05 L210.55,536.98 L210.87,535.90 L211.14,534.82 L211.37,533.75 L211.56,532.67 L211.71,531.60 L211.83,530.52 L211.85,529.44 L211.85,528.37 L211.85,527.29 L211.85,526.21 L211.85,525.14 L211.85,524.06 L211.85,522.99 L211.85,521.91 L211.85,520.83 L211.85,519.76 L211.85,518.68 L211.85,517.60 L211.85,516.53 L211.85,515.45 L211.85,514.38 L211.85,513.30Z" fill="#d4eaf7" stroke="#4c9fd0" stroke-width="0.7" stroke-linejoin="round"/>
<line x1="178.00" y1="560.55" x2="194.00" y2="560.55" stroke="#3a0b20" stroke-width="0.6" stroke-dasharray="1.2,0.8"/>
<line x1="175.80" y1="564.54" x2="196.20" y2="564.54" stroke="#2a0516" stroke-width="0.8"/>
<line x1="178.00" y1="569.47" x2="194.00" y2="569.47" stroke="#3a0b20" stroke-width="0.6" stroke-dasharray="1.2,0.8"/>
<line x1="204.00" y1="551.62" x2="220.40" y2="551.62" stroke="#4c9fd0" stroke-width="0.7"/>
<line x1="201.70" y1="558.66" x2="222.70" y2="558.66" stroke="#203040" stroke-width="0.9" stroke-dasharray="1.2,0.8"/>
<line x1="203.20" y1="564.96" x2="221.20" y2="564.96" stroke="#4c9fd0" stroke-width="0.7"/>
<polyline points="186.00,531.00 186.00,503.40 212.20,503.40 212.20,511.00" stroke="#333" stroke-width="0.8" fill="none"/>
<line x1="186.00" y1="531.00" x2="186.00" y2="540.00" stroke="#bbbbbb" stroke-width="0.6"/>
<circle cx="192.90" cy="498.20" r="1.5" fill="#111" stroke="none" stroke-width="0"/>
<circle cx="197.30" cy="498.20" r="1.5" fill="#111" stroke="none" stroke-width="0"/>
<circle cx="201.70" cy="498.20" r="1.5" fill="#111" stroke="none" stroke-width="0"/>
<circle cx="206.10" cy="498.20" r="1.5" fill="#111" stroke="none" stroke-width="0"/>
</g>
<g font-family='"Liberation Sans", sans-serif'>
<text x="257.90" y="494.40" font-size="13.6" text-anchor="start" fill="#111" font-weight="bold">H</text>
<line x1="283.80" y1="505.80" x2="283.80" y2="602.00" stroke="#222" stroke-width="1.1"/>
<line x1="279.60" y1="602.00" x2="283.80" y2="602.00" stroke="#222" stroke-width="1.0"/>
<text x="278.60" y="604.12" font-size="5.9" text-anchor="end" fill="#222" font-weight="normal" stroke="#222" stroke-width="0.18">0</text>
<line x1="279.60" y1="585.97" x2="283.80" y2="585.97" stroke="#222" stroke-width="1.0"/>
<text x="278.60" y="588.09" font-size="5.9" text-anchor="end" fill="#222" font-weight="normal" stroke="#222" stroke-width="0.18">25</text>
<line x1="279.60" y1="569.93" x2="283.80" y2="569.93" stroke="#222" stroke-width="1.0"/>
<text x="278.60" y="572.06" font-size="5.9" text-anchor="end" fill="#222" font-weight="normal" stroke="#222" stroke-width="0.18">50</text>
<line x1="279.60" y1="553.90" x2="283.80" y2="553.90" stroke="#222" stroke-width="1.0"/>
<text x="278.60" y="556.02" font-size="5.9" text-anchor="end" fill="#222" font-weight="normal" stroke="#222" stroke-width="0.18">75</text>
<line x1="279.60" y1="537.87" x2="283.80" y2="537.87" stroke="#222" stroke-width="1.0"/>
<text x="278.60" y="539.99" font-size="5.9" text-anchor="end" fill="#222" font-weight="normal" stroke="#222" stroke-width="0.18">100</text>
<line x1="279.60" y1="521.83" x2="283.80" y2="521.83" stroke="#222" stroke-width="1.0"/>
<text x="278.60" y="523.96" font-size="5.9" text-anchor="end" fill="#222" font-weight="normal" stroke="#222" stroke-width="0.18">125</text>
<line x1="279.60" y1="505.80" x2="283.80" y2="505.80" stroke="#222" stroke-width="1.0"/>
<text x="278.60" y="507.92" font-size="5.9" text-anchor="end" fill="#222" font-weight="normal" stroke="#222" stroke-width="0.18">150</text>
<line x1="283.80" y1="602.00" x2="291.70" y2="602.00" stroke="#222" stroke-width="1.1"/>
<line x1="283.80" y1="602.00" x2="283.80" y2="605.20" stroke="#222" stroke-width="1.1"/>
<line x1="291.70" y1="599.40" x2="291.70" y2="604.80" stroke="#222" stroke-width="1.0"/>
<line x1="300.20" y1="602.00" x2="369.00" y2="602.00" stroke="#222" stroke-width="1.1"/>
<line x1="300.20" y1="599.40" x2="300.20" y2="604.80" stroke="#222" stroke-width="1.0"/>
<text x="283.80" y="612.96" font-size="6.0" text-anchor="middle" fill="#222" font-weight="normal" stroke="#222" stroke-width="0.18">0</text>
<line x1="300.40" y1="602.00" x2="300.40" y2="605.20" stroke="#222" stroke-width="1.0"/>
<text x="300.40" y="614.96" font-size="6.0" text-anchor="middle" fill="#222" font-weight="normal" stroke="#222" stroke-width="0.18">5.0</text>
<line x1="311.70" y1="602.00" x2="311.70" y2="605.20" stroke="#222" stroke-width="1.0"/>
<text x="311.70" y="614.96" font-size="6.0" text-anchor="middle" fill="#222" font-weight="normal" stroke="#222" stroke-width="0.18">5.5</text>
<line x1="323.00" y1="602.00" x2="323.00" y2="605.20" stroke="#222" stroke-width="1.0"/>
<text x="323.00" y="614.96" font-size="6.0" text-anchor="middle" fill="#222" font-weight="normal" stroke="#222" stroke-width="0.18">6.0</text>
<line x1="334.30" y1="602.00" x2="334.30" y2="605.20" stroke="#222" stroke-width="1.0"/>
<text x="334.30" y="614.96" font-size="6.0" text-anchor="middle" fill="#222" font-weight="normal" stroke="#222" stroke-width="0.18">6.5</text>
<line x1="345.60" y1="602.00" x2="345.60" y2="605.20" stroke="#222" stroke-width="1.0"/>
<text x="345.60" y="614.96" font-size="6.0" text-anchor="middle" fill="#222" font-weight="normal" stroke="#222" stroke-width="0.18">7.0</text>
<line x1="356.90" y1="602.00" x2="356.90" y2="605.20" stroke="#222" stroke-width="1.0"/>
<text x="356.90" y="614.96" font-size="6.0" text-anchor="middle" fill="#222" font-weight="normal" stroke="#222" stroke-width="0.18">7.5</text>
<line x1="368.20" y1="602.00" x2="368.20" y2="605.20" stroke="#222" stroke-width="1.0"/>
<text x="368.20" y="614.96" font-size="6.0" text-anchor="middle" fill="#222" font-weight="normal" stroke="#222" stroke-width="0.18">8.0</text>
<text x="326.70" y="501.40" font-size="8.6" text-anchor="middle" fill="#222" font-weight="normal" stroke="#222" stroke-width="0.1">Doxorubicin</text>
<text x="328.20" y="624.39" font-size="6.35" text-anchor="middle" fill="#222" font-weight="normal" stroke="#222" stroke-width="0.18">Log [Doxorubicin] (nmol/L)</text>
<text x="256.70" y="558.33" font-size="6.2" text-anchor="middle" fill="#222" font-weight="normal" stroke="#222" stroke-width="0.18" transform="rotate(-90 256.70 556.10)">Cell viability (% of control)</text>
<polyline points="300.40,536.93 300.85,536.93 301.30,536.94 301.76,536.94 302.21,536.94 302.66,536.94 303.11,536.95 303.56,536.95 304.02,536.95 304.47,536.96 304.92,536.96 305.37,536.97 305.82,536.97 306.28,536.98 306.73,536.98 307.18,536.99 307.63,537.00 308.08,537.00 308.54,537.01 308.99,537.02 309.44,537.03 309.89,537.04 310.34,537.05 310.80,537.06 311.25,537.08 311.70,537.09 312.15,537.11 312.60,537.12 313.06,537.14 313.51,537.16 313.96,537.18 314.41,537.20 314.86,537.23 315.32,537.25 315.77,537.28 316.22,537.31 316.67,537.34 317.12,537.38 317.58,537.42 318.03,537.46 318.48,537.50 318.93,537.55 319.38,537.60 319.84,537.66 320.29,537.72 320.74,537.78 321.19,537.85 321.64,537.93 322.10,538.01 322.55,538.10 323.00,538.19 323.45,538.29 323.90,538.40 324.36,538.52 324.81,538.65 325.26,538.78 325.71,538.93 326.16,539.09 326.62,539.26 327.07,539.44 327.52,539.63 327.97,539.84 328.42,540.06 328.88,540.30 329.33,540.56 329.78,540.83 330.23,541.13 330.68,541.44 331.14,541.77 331.59,542.12 332.04,542.50 332.49,542.90 332.94,543.32 333.40,543.77 333.85,544.24 334.30,544.74 334.75,545.27 335.20,545.83 335.66,546.41 336.11,547.03 336.56,547.67 337.01,548.34 337.46,549.03 337.92,549.76 338.37,550.51 338.82,551.29 339.27,552.09 339.72,552.92 340.18,553.77 340.63,554.64 341.08,555.53 341.53,556.44 341.98,557.35 342.44,558.28 342.89,559.22 343.34,560.17 343.79,561.12 344.24,562.06 344.70,563.01 345.15,563.95 345.60,564.88 346.05,565.79 346.50,566.70 346.96,567.59 347.41,568.46 347.86,569.31 348.31,570.14 348.76,570.94 349.22,571.72 349.67,572.47 350.12,573.20 350.57,573.89 351.02,574.56 351.48,575.20 351.93,575.82 352.38,576.40 352.83,576.96 353.28,577.49 353.74,577.99 354.19,578.46 354.64,578.91 355.09,579.33 355.54,579.73 356.00,580.11 356.45,580.46 356.90,580.79 357.35,581.10 357.80,581.40 358.26,581.67 358.71,581.93 359.16,582.17 359.61,582.39 360.06,582.60 360.52,582.79 360.97,582.97 361.42,583.14 361.87,583.30 362.32,583.45 362.78,583.58 363.23,583.71 363.68,583.83 364.13,583.94 364.58,584.04 365.04,584.13 365.49,584.22 365.94,584.30 366.39,584.38 366.84,584.45 367.30,584.51 367.75,584.57 368.20,584.63" stroke="#5bb4e5" stroke-width="1.2" fill="none"/>
<polyline points="300.40,536.93 300.85,536.93 301.30,536.93 301.76,536.94 302.21,536.94 302.66,536.94 303.11,536.94 303.56,536.95 304.02,536.95 304.47,536.95 304.92,536.96 305.37,536.96 305.82,536.97 306.28,536.97 306.73,536.98 307.18,536.99 307.63,536.99 308.08,537.00 308.54,537.01 308.99,537.02 309.44,537.03 309.89,537.04 310.34,537.05 310.80,537.06 311.25,537.07 311.70,537.08 312.15,537.10 312.60,537.12 313.06,537.13 313.51,537.15 313.96,537.17 314.41,537.20 314.86,537.22 315.32,537.25 315.77,537.28 316.22,537.31 316.67,537.34 317.12,537.38 317.58,537.42 318.03,537.46 318.48,537.50 318.93,537.55 319.38,537.61 319.84,537.66 320.29,537.73 320.74,537.80 321.19,537.87 321.64,537.95 322.10,538.03 322.55,538.13 323.00,538.23 323.45,538.33 323.90,538.45 324.36,538.58 324.81,538.71 325.26,538.86 325.71,539.01 326.16,539.18 326.62,539.36 327.07,539.56 327.52,539.77 327.97,540.00 328.42,540.24 328.88,540.50 329.33,540.78 329.78,541.08 330.23,541.40 330.68,541.74 331.14,542.10 331.59,542.49 332.04,542.90 332.49,543.34 332.94,543.81 333.40,544.31 333.85,544.83 334.30,545.39 334.75,545.97 335.20,546.59 335.66,547.24 336.11,547.91 336.56,548.63 337.01,549.37 337.46,550.14 337.92,550.95 338.37,551.78 338.82,552.65 339.27,553.54 339.72,554.45 340.18,555.39 340.63,556.35 341.08,557.33 341.53,558.32 341.98,559.33 342.44,560.35 342.89,561.37 343.34,562.40 343.79,563.42 344.24,564.45 344.70,565.46 345.15,566.47 345.60,567.47 346.05,568.44 346.50,569.40 346.96,570.34 347.41,571.26 347.86,572.15 348.31,573.01 348.76,573.85 349.22,574.65 349.67,575.43 350.12,576.17 350.57,576.88 351.02,577.56 351.48,578.21 351.93,578.82 352.38,579.41 352.83,579.96 353.28,580.49 353.74,580.98 354.19,581.45 354.64,581.89 355.09,582.31 355.54,582.69 356.00,583.06 356.45,583.40 356.90,583.72 357.35,584.02 357.80,584.30 358.26,584.56 358.71,584.80 359.16,585.02 359.61,585.23 360.06,585.43 360.52,585.61 360.97,585.78 361.42,585.94 361.87,586.08 362.32,586.22 362.78,586.35 363.23,586.46 363.68,586.57 364.13,586.67 364.58,586.76 365.04,586.85 365.49,586.93 365.94,587.00 366.39,587.07 366.84,587.13 367.30,587.19 367.75,587.24 368.20,587.29" stroke="#6a2050" stroke-width="1.2" fill="none"/>
<line x1="282.60" y1="537.87" x2="291.60" y2="537.23" stroke="#8c1a4b" stroke-width="0.8" stroke-dasharray="2.5,1.2"/>
<circle cx="283.60" cy="537.87" r="1.4" fill="#8c1a4b" stroke="none" stroke-width="0"/>
<circle cx="300.40" cy="536.58" r="1.6" fill="#8c1a4b" stroke="none" stroke-width="0"/>
<circle cx="316.22" cy="536.90" r="1.6" fill="#8c1a4b" stroke="none" stroke-width="0"/>
<circle cx="323.00" cy="537.87" r="1.6" fill="#8c1a4b" stroke="none" stroke-width="0"/>
<circle cx="332.04" cy="545.56" r="1.6" fill="#8c1a4b" stroke="none" stroke-width="0"/>
<circle cx="338.82" cy="552.62" r="1.6" fill="#8c1a4b" stroke="none" stroke-width="0"/>
<circle cx="345.60" cy="571.22" r="1.6" fill="#8c1a4b" stroke="none" stroke-width="0"/>
<circle cx="350.12" cy="577.63" r="1.6" fill="#8c1a4b" stroke="none" stroke-width="0"/>
<circle cx="354.64" cy="581.48" r="1.6" fill="#8c1a4b" stroke="none" stroke-width="0"/>
<circle cx="361.42" cy="584.68" r="1.6" fill="#8c1a4b" stroke="none" stroke-width="0"/>
<circle cx="365.94" cy="585.97" r="1.6" fill="#8c1a4b" stroke="none" stroke-width="0"/>
<circle cx="368.20" cy="588.53" r="1.6" fill="#8c1a4b" stroke="none" stroke-width="0"/>
<path d="M337.50,555.42 L340.14,555.42 L338.82,553.33Z" fill="#5bb4e5" stroke="none" stroke-width="0"/>
<path d="M344.28,570.81 L346.92,570.81 L345.60,568.72Z" fill="#5bb4e5" stroke="none" stroke-width="0"/>
<path d="M348.80,577.23 L351.44,577.23 L350.12,575.14Z" fill="#5bb4e5" stroke="none" stroke-width="0"/>
<path d="M353.32,580.43 L355.96,580.43 L354.64,578.34Z" fill="#5bb4e5" stroke="none" stroke-width="0"/>
<path d="M360.10,583.64 L362.74,583.64 L361.42,581.55Z" fill="#5bb4e5" stroke="none" stroke-width="0"/>
<path d="M364.62,583.00 L367.26,583.00 L365.94,580.91Z" fill="#5bb4e5" stroke="none" stroke-width="0"/>
<path d="M366.88,584.92 L369.52,584.92 L368.20,582.83Z" fill="#5bb4e5" stroke="none" stroke-width="0"/>
<line x1="288.00" y1="584.60" x2="299.00" y2="584.60" stroke="#8c1a4b" stroke-width="0.9"/>
<circle cx="293.30" cy="584.60" r="1.6" fill="#8c1a4b" stroke="none" stroke-width="0"/>
<text x="305.00" y="586.94" font-size="6.5" text-anchor="start" fill="#222" font-weight="normal" stroke="#222" stroke-width="0.18">ShScramble</text>
<line x1="288.00" y1="592.00" x2="299.00" y2="592.00" stroke="#5bb4e5" stroke-width="0.9" stroke-dasharray="1.5,1"/>
<path d="M291.98,592.88 L294.62,592.88 L293.30,590.79Z" fill="#5bb4e5" stroke="none" stroke-width="0"/>
<text x="305.00" y="594.34" font-size="6.5" text-anchor="start" fill="#222" font-weight="normal" stroke="#222" stroke-width="0.18">ShRNA.1/.2</text>
<line x1="415.50" y1="504.50" x2="415.50" y2="600.00" stroke="#222" stroke-width="1.1"/>
<line x1="411.30" y1="600.00" x2="415.50" y2="600.00" stroke="#222" stroke-width="1.0"/>
<text x="410.30" y="602.12" font-size="5.9" text-anchor="end" fill="#222" font-weight="normal" stroke="#222" stroke-width="0.18">0</text>
<line x1="411.30" y1="584.08" x2="415.50" y2="584.08" stroke="#222" stroke-width="1.0"/>
<text x="410.30" y="586.21" font-size="5.9" text-anchor="end" fill="#222" font-weight="normal" stroke="#222" stroke-width="0.18">25</text>
<line x1="411.30" y1="568.17" x2="415.50" y2="568.17" stroke="#222" stroke-width="1.0"/>
<text x="410.30" y="570.29" font-size="5.9" text-anchor="end" fill="#222" font-weight="normal" stroke="#222" stroke-width="0.18">50</text>
<line x1="411.30" y1="552.25" x2="415.50" y2="552.25" stroke="#222" stroke-width="1.0"/>
<text x="410.30" y="554.37" font-size="5.9" text-anchor="end" fill="#222" font-weight="normal" stroke="#222" stroke-width="0.18">75</text>
<line x1="411.30" y1="536.33" x2="415.50" y2="536.33" stroke="#222" stroke-width="1.0"/>
<text x="410.30" y="538.46" font-size="5.9" text-anchor="end" fill="#222" font-weight="normal" stroke="#222" stroke-width="0.18">100</text>
<line x1="411.30" y1="520.42" x2="415.50" y2="520.42" stroke="#222" stroke-width="1.0"/>
<text x="410.30" y="522.54" font-size="5.9" text-anchor="end" fill="#222" font-weight="normal" stroke="#222" stroke-width="0.18">125</text>
<line x1="411.30" y1="504.50" x2="415.50" y2="504.50" stroke="#222" stroke-width="1.0"/>
<text x="410.30" y="506.62" font-size="5.9" text-anchor="end" fill="#222" font-weight="normal" stroke="#222" stroke-width="0.18">150</text>
<line x1="415.50" y1="600.00" x2="424.40" y2="600.00" stroke="#222" stroke-width="1.1"/>
<line x1="415.50" y1="600.00" x2="415.50" y2="603.20" stroke="#222" stroke-width="1.1"/>
<line x1="424.40" y1="597.40" x2="424.40" y2="602.80" stroke="#222" stroke-width="1.0"/>
<line x1="432.50" y1="600.00" x2="505.00" y2="600.00" stroke="#222" stroke-width="1.1"/>
<line x1="432.50" y1="597.40" x2="432.50" y2="602.80" stroke="#222" stroke-width="1.0"/>
<text x="415.50" y="610.96" font-size="6.0" text-anchor="middle" fill="#222" font-weight="normal" stroke="#222" stroke-width="0.18">0</text>
<line x1="433.00" y1="600.00" x2="433.00" y2="603.20" stroke="#222" stroke-width="1.0"/>
<text x="433.00" y="612.96" font-size="6.0" text-anchor="middle" fill="#222" font-weight="normal" stroke="#222" stroke-width="0.18">4.0</text>
<line x1="445.00" y1="600.00" x2="445.00" y2="603.20" stroke="#222" stroke-width="1.0"/>
<text x="445.00" y="612.96" font-size="6.0" text-anchor="middle" fill="#222" font-weight="normal" stroke="#222" stroke-width="0.18">4.5</text>
<line x1="457.00" y1="600.00" x2="457.00" y2="603.20" stroke="#222" stroke-width="1.0"/>
<text x="457.00" y="612.96" font-size="6.0" text-anchor="middle" fill="#222" font-weight="normal" stroke="#222" stroke-width="0.18">5.0</text>
<line x1="469.00" y1="600.00" x2="469.00" y2="603.20" stroke="#222" stroke-width="1.0"/>
<text x="469.00" y="612.96" font-size="6.0" text-anchor="middle" fill="#222" font-weight="normal" stroke="#222" stroke-width="0.18">5.5</text>
<line x1="481.00" y1="600.00" x2="481.00" y2="603.20" stroke="#222" stroke-width="1.0"/>
<text x="481.00" y="612.96" font-size="6.0" text-anchor="middle" fill="#222" font-weight="normal" stroke="#222" stroke-width="0.18">6.0</text>
<line x1="493.00" y1="600.00" x2="493.00" y2="603.20" stroke="#222" stroke-width="1.0"/>
<text x="493.00" y="612.96" font-size="6.0" text-anchor="middle" fill="#222" font-weight="normal" stroke="#222" stroke-width="0.18">6.5</text>
<line x1="505.00" y1="600.00" x2="505.00" y2="603.20" stroke="#222" stroke-width="1.0"/>
<text x="505.00" y="612.96" font-size="6.0" text-anchor="middle" fill="#222" font-weight="normal" stroke="#222" stroke-width="0.18">7.0</text>
<text x="460.00" y="501.10" font-size="8.6" text-anchor="middle" fill="#222" font-weight="normal" stroke="#222" stroke-width="0.1">Decitabine</text>
<text x="464.50" y="623.29" font-size="6.35" text-anchor="middle" fill="#222" font-weight="normal" stroke="#222" stroke-width="0.18">Log [Decitabine] (nmol/L)</text>
<text x="394.80" y="556.68" font-size="6.2" text-anchor="middle" fill="#222" font-weight="normal" stroke="#222" stroke-width="0.18" transform="rotate(-90 394.80 554.45)">Cell viability (% of control)</text>
<polyline points="433.00,533.79 433.48,533.79 433.97,533.79 434.45,533.79 434.93,533.79 435.42,533.79 435.90,533.79 436.38,533.79 436.87,533.79 437.35,533.79 437.83,533.79 438.32,533.79 438.80,533.79 439.28,533.79 439.77,533.79 440.25,533.79 440.73,533.79 441.22,533.79 441.70,533.79 442.18,533.79 442.67,533.79 443.15,533.79 443.63,533.79 444.12,533.79 444.60,533.79 445.08,533.79 445.57,533.79 446.05,533.79 446.53,533.79 447.02,533.79 447.50,533.79 447.98,533.79 448.47,533.79 448.95,533.80 449.43,533.80 449.92,533.80 450.40,533.80 450.88,533.80 451.37,533.80 451.85,533.80 452.33,533.80 452.82,533.80 453.30,533.81 453.78,533.81 454.27,533.81 454.75,533.81 455.23,533.81 455.72,533.82 456.20,533.82 456.68,533.82 457.17,533.83 457.65,533.83 458.13,533.84 458.62,533.84 459.10,533.85 459.58,533.85 460.07,533.86 460.55,533.86 461.03,533.87 461.52,533.88 462.00,533.89 462.48,533.90 462.97,533.91 463.45,533.92 463.93,533.93 464.42,533.95 464.90,533.96 465.38,533.98 465.87,534.00 466.35,534.02 466.83,534.04 467.32,534.06 467.80,534.09 468.28,534.12 468.77,534.15 469.25,534.19 469.73,534.22 470.22,534.26 470.70,534.31 471.18,534.36 471.67,534.41 472.15,534.47 472.63,534.53 473.12,534.60 473.60,534.68 474.08,534.76 474.57,534.85 475.05,534.94 475.53,535.05 476.02,535.16 476.50,535.29 476.98,535.42 477.47,535.56 477.95,535.72 478.43,535.88 478.92,536.06 479.40,536.26 479.88,536.46 480.37,536.69 480.85,536.92 481.33,537.18 481.82,537.44 482.30,537.73 482.78,538.03 483.27,538.35 483.75,538.68 484.23,539.03 484.72,539.40 485.20,539.78 485.68,540.18 486.17,540.59 486.65,541.01 487.13,541.45 487.62,541.89 488.10,542.35 488.58,542.81 489.07,543.27 489.55,543.74 490.03,544.21 490.52,544.68 491.00,545.14 491.48,545.60 491.97,546.05 492.45,546.50 492.93,546.93 493.42,547.36 493.90,547.77 494.38,548.17 494.87,548.55 495.35,548.91 495.83,549.27 496.32,549.60 496.80,549.92 497.28,550.22 497.77,550.50 498.25,550.77 498.73,551.02 499.22,551.26 499.70,551.48 500.18,551.69 500.67,551.88 501.15,552.06 501.63,552.23 502.12,552.38 502.60,552.53 503.08,552.66 503.57,552.78 504.05,552.90 504.53,553.00 505.02,553.10 505.50,553.19" stroke="#8c1a4b" stroke-width="0.9" fill="none"/>
<polyline points="433.00,535.96 433.48,536.01 433.97,536.05 434.45,536.10 434.93,536.14 435.42,536.19 435.90,536.24 436.38,536.30 436.87,536.35 437.35,536.41 437.83,536.47 438.32,536.54 438.80,536.60 439.28,536.67 439.77,536.75 440.25,536.82 440.73,536.90 441.22,536.98 441.70,537.07 442.18,537.16 442.67,537.25 443.15,537.35 443.63,537.45 444.12,537.55 444.60,537.66 445.08,537.78 445.57,537.90 446.05,538.02 446.53,538.15 447.02,538.28 447.50,538.42 447.98,538.56 448.47,538.71 448.95,538.86 449.43,539.02 449.92,539.19 450.40,539.36 450.88,539.54 451.37,539.72 451.85,539.91 452.33,540.11 452.82,540.32 453.30,540.53 453.78,540.75 454.27,540.97 454.75,541.20 455.23,541.44 455.72,541.69 456.20,541.94 456.68,542.20 457.17,542.47 457.65,542.75 458.13,543.03 458.62,543.33 459.10,543.63 459.58,543.93 460.07,544.25 460.55,544.57 461.03,544.90 461.52,545.23 462.00,545.57 462.48,545.92 462.97,546.28 463.45,546.64 463.93,547.01 464.42,547.39 464.90,547.77 465.38,548.16 465.87,548.55 466.35,548.94 466.83,549.35 467.32,549.75 467.80,550.16 468.28,550.57 468.77,550.99 469.25,551.41 469.73,551.83 470.22,552.25 470.70,552.67 471.18,553.10 471.67,553.52 472.15,553.95 472.63,554.37 473.12,554.80 473.60,555.22 474.08,555.64 474.57,556.06 475.05,556.47 475.53,556.89 476.02,557.30 476.50,557.70 476.98,558.10 477.47,558.50 477.95,558.89 478.43,559.28 478.92,559.66 479.40,560.03 479.88,560.40 480.37,560.77 480.85,561.12 481.33,561.47 481.82,561.81 482.30,562.15 482.78,562.48 483.27,562.80 483.75,563.11 484.23,563.42 484.72,563.72 485.20,564.01 485.68,564.30 486.17,564.57 486.65,564.84 487.13,565.10 487.62,565.36 488.10,565.60 488.58,565.84 489.07,566.08 489.55,566.30 490.03,566.52 490.52,566.73 491.00,566.93 491.48,567.13 491.97,567.32 492.45,567.51 492.93,567.69 493.42,567.86 493.90,568.02 494.38,568.18 494.87,568.34 495.35,568.49 495.83,568.63 496.32,568.77 496.80,568.90 497.28,569.03 497.77,569.15 498.25,569.27 498.73,569.38 499.22,569.49 499.70,569.60 500.18,569.70 500.67,569.80 501.15,569.89 501.63,569.98 502.12,570.06 502.60,570.15 503.08,570.22 503.57,570.30 504.05,570.37 504.53,570.44 505.02,570.51 505.50,570.57" stroke="#5bb4e5" stroke-width="0.9" fill="none"/>
<line x1="412.50" y1="536.33" x2="420.00" y2="535.70" stroke="#b06080" stroke-width="1.0"/>
<line x1="433.00" y1="531.24" x2="433.00" y2="535.06" stroke="#8c1a4b" stroke-width="0.6"/>
<line x1="431.70" y1="531.24" x2="434.30" y2="531.24" stroke="#8c1a4b" stroke-width="0.6"/>
<line x1="431.70" y1="535.06" x2="434.30" y2="535.06" stroke="#8c1a4b" stroke-width="0.6"/>
<circle cx="433.00" cy="533.15" r="1.6" fill="#8c1a4b" stroke="none" stroke-width="0"/>
<line x1="464.42" y1="531.88" x2="464.42" y2="536.97" stroke="#8c1a4b" stroke-width="0.6"/>
<line x1="463.12" y1="531.88" x2="465.72" y2="531.88" stroke="#8c1a4b" stroke-width="0.6"/>
<line x1="463.12" y1="536.97" x2="465.72" y2="536.97" stroke="#8c1a4b" stroke-width="0.6"/>
<circle cx="464.42" cy="534.42" r="1.6" fill="#8c1a4b" stroke="none" stroke-width="0"/>
<line x1="474.08" y1="532.51" x2="474.08" y2="538.88" stroke="#8c1a4b" stroke-width="0.6"/>
<line x1="472.78" y1="532.51" x2="475.38" y2="532.51" stroke="#8c1a4b" stroke-width="0.6"/>
<line x1="472.78" y1="538.88" x2="475.38" y2="538.88" stroke="#8c1a4b" stroke-width="0.6"/>
<circle cx="474.08" cy="535.70" r="1.6" fill="#8c1a4b" stroke="none" stroke-width="0"/>
<line x1="481.33" y1="536.97" x2="481.33" y2="540.79" stroke="#8c1a4b" stroke-width="0.6"/>
<line x1="480.03" y1="536.97" x2="482.63" y2="536.97" stroke="#8c1a4b" stroke-width="0.6"/>
<line x1="480.03" y1="540.79" x2="482.63" y2="540.79" stroke="#8c1a4b" stroke-width="0.6"/>
<circle cx="481.33" cy="538.88" r="1.6" fill="#8c1a4b" stroke="none" stroke-width="0"/>
<line x1="491.00" y1="543.97" x2="491.00" y2="547.79" stroke="#8c1a4b" stroke-width="0.6"/>
<line x1="489.70" y1="543.97" x2="492.30" y2="543.97" stroke="#8c1a4b" stroke-width="0.6"/>
<line x1="489.70" y1="547.79" x2="492.30" y2="547.79" stroke="#8c1a4b" stroke-width="0.6"/>
<circle cx="491.00" cy="545.88" r="1.6" fill="#8c1a4b" stroke="none" stroke-width="0"/>
<line x1="498.25" y1="545.88" x2="498.25" y2="549.70" stroke="#8c1a4b" stroke-width="0.6"/>
<line x1="496.95" y1="545.88" x2="499.55" y2="545.88" stroke="#8c1a4b" stroke-width="0.6"/>
<line x1="496.95" y1="549.70" x2="499.55" y2="549.70" stroke="#8c1a4b" stroke-width="0.6"/>
<circle cx="498.25" cy="547.79" r="1.6" fill="#8c1a4b" stroke="none" stroke-width="0"/>
<line x1="505.50" y1="551.61" x2="505.50" y2="552.89" stroke="#8c1a4b" stroke-width="0.6"/>
<line x1="504.20" y1="551.61" x2="506.80" y2="551.61" stroke="#8c1a4b" stroke-width="0.6"/>
<line x1="504.20" y1="552.89" x2="506.80" y2="552.89" stroke="#8c1a4b" stroke-width="0.6"/>
<circle cx="505.50" cy="552.25" r="1.6" fill="#8c1a4b" stroke="none" stroke-width="0"/>
<line x1="433.00" y1="535.06" x2="433.00" y2="537.61" stroke="#5bb4e5" stroke-width="0.6"/>
<line x1="431.70" y1="535.06" x2="434.30" y2="535.06" stroke="#5bb4e5" stroke-width="0.6"/>
<line x1="431.70" y1="537.61" x2="434.30" y2="537.61" stroke="#5bb4e5" stroke-width="0.6"/>
<path d="M431.68,537.21 L434.32,537.21 L433.00,535.12Z" fill="#5bb4e5" stroke="none" stroke-width="0"/>
<line x1="464.42" y1="549.70" x2="464.42" y2="554.80" stroke="#5bb4e5" stroke-width="0.6"/>
<line x1="463.12" y1="549.70" x2="465.72" y2="549.70" stroke="#5bb4e5" stroke-width="0.6"/>
<line x1="463.12" y1="554.80" x2="465.72" y2="554.80" stroke="#5bb4e5" stroke-width="0.6"/>
<path d="M463.10,553.13 L465.74,553.13 L464.42,551.04Z" fill="#5bb4e5" stroke="none" stroke-width="0"/>
<line x1="474.08" y1="551.61" x2="474.08" y2="559.25" stroke="#5bb4e5" stroke-width="0.6"/>
<line x1="472.78" y1="551.61" x2="475.38" y2="551.61" stroke="#5bb4e5" stroke-width="0.6"/>
<line x1="472.78" y1="559.25" x2="475.38" y2="559.25" stroke="#5bb4e5" stroke-width="0.6"/>
<path d="M472.76,556.31 L475.40,556.31 L474.08,554.22Z" fill="#5bb4e5" stroke="none" stroke-width="0"/>
<line x1="481.33" y1="557.34" x2="481.33" y2="562.44" stroke="#5bb4e5" stroke-width="0.6"/>
<line x1="480.03" y1="557.34" x2="482.63" y2="557.34" stroke="#5bb4e5" stroke-width="0.6"/>
<line x1="480.03" y1="562.44" x2="482.63" y2="562.44" stroke="#5bb4e5" stroke-width="0.6"/>
<path d="M480.01,560.77 L482.65,560.77 L481.33,558.68Z" fill="#5bb4e5" stroke="none" stroke-width="0"/>
<line x1="491.00" y1="564.35" x2="491.00" y2="568.17" stroke="#5bb4e5" stroke-width="0.6"/>
<line x1="489.70" y1="564.35" x2="492.30" y2="564.35" stroke="#5bb4e5" stroke-width="0.6"/>
<line x1="489.70" y1="568.17" x2="492.30" y2="568.17" stroke="#5bb4e5" stroke-width="0.6"/>
<path d="M489.68,567.14 L492.32,567.14 L491.00,565.05Z" fill="#5bb4e5" stroke="none" stroke-width="0"/>
<line x1="498.25" y1="566.89" x2="498.25" y2="569.44" stroke="#5bb4e5" stroke-width="0.6"/>
<line x1="496.95" y1="566.89" x2="499.55" y2="566.89" stroke="#5bb4e5" stroke-width="0.6"/>
<line x1="496.95" y1="569.44" x2="499.55" y2="569.44" stroke="#5bb4e5" stroke-width="0.6"/>
<path d="M496.93,569.05 L499.57,569.05 L498.25,566.96Z" fill="#5bb4e5" stroke="none" stroke-width="0"/>
<line x1="505.50" y1="569.44" x2="505.50" y2="570.71" stroke="#5bb4e5" stroke-width="0.6"/>
<line x1="504.20" y1="569.44" x2="506.80" y2="569.44" stroke="#5bb4e5" stroke-width="0.6"/>
<line x1="504.20" y1="570.71" x2="506.80" y2="570.71" stroke="#5bb4e5" stroke-width="0.6"/>
<path d="M504.18,570.96 L506.82,570.96 L505.50,568.87Z" fill="#5bb4e5" stroke="none" stroke-width="0"/>
<text x="432.50" y="527.72" font-size="5.6" text-anchor="middle" fill="#333" font-weight="normal" stroke="#333" stroke-width="0.18">ns.</text>
<circle cx="464.20" cy="543.30" r="1.2" fill="#111" stroke="none" stroke-width="0"/>
<circle cx="473.70" cy="546.10" r="1.2" fill="#111" stroke="none" stroke-width="0"/>
<circle cx="479.85" cy="552.50" r="1.2" fill="#111" stroke="none" stroke-width="0"/>
<circle cx="482.75" cy="552.50" r="1.2" fill="#111" stroke="none" stroke-width="0"/>
<circle cx="488.75" cy="559.40" r="1.2" fill="#111" stroke="none" stroke-width="0"/>
<circle cx="491.65" cy="559.40" r="1.2" fill="#111" stroke="none" stroke-width="0"/>
<circle cx="496.25" cy="560.90" r="1.2" fill="#111" stroke="none" stroke-width="0"/>
<circle cx="499.15" cy="560.90" r="1.2" fill="#111" stroke="none" stroke-width="0"/>
<circle cx="502.30" cy="564.80" r="1.2" fill="#111" stroke="none" stroke-width="0"/>
<circle cx="505.20" cy="564.80" r="1.2" fill="#111" stroke="none" stroke-width="0"/>
<circle cx="508.10" cy="564.80" r="1.2" fill="#111" stroke="none" stroke-width="0"/>
<line x1="421.80" y1="581.20" x2="432.80" y2="581.20" stroke="#8c1a4b" stroke-width="0.9"/>
<circle cx="427.90" cy="581.20" r="1.6" fill="#8c1a4b" stroke="none" stroke-width="0"/>
<text x="438.80" y="583.92" font-size="7.0" text-anchor="start" fill="#222" font-weight="normal" stroke="#222" stroke-width="0.1">ShScramble</text>
<path d="M426.58,590.68 L429.22,590.68 L427.90,588.59Z" fill="#5bb4e5" stroke="none" stroke-width="0"/>
<text x="438.80" y="592.52" font-size="7.0" text-anchor="start" fill="#222" font-weight="normal" stroke="#222" stroke-width="0.1">ShRNA.1/.2</text>
</g>
</svg></body></html>
